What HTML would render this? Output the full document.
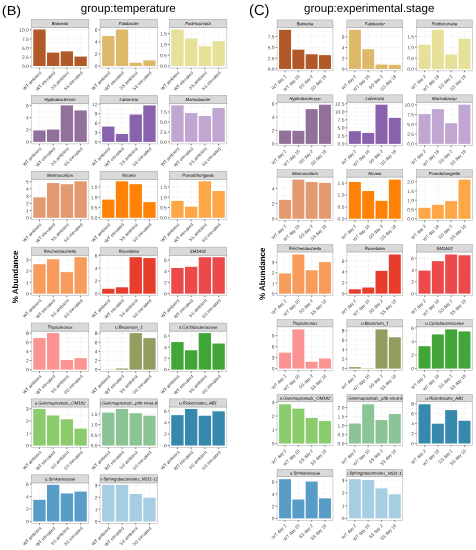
<!DOCTYPE html>
<html lang="en"><head><meta charset="utf-8"><title>Abundance by group</title>
<style>
html,body{margin:0;padding:0;background:#fff}
svg{display:block;text-rendering:geometricPrecision;font-family:"Liberation Sans",Arial,Helvetica,sans-serif}
</style></head><body>
<svg width="476" height="550" viewBox="0 0 476 550">
<rect width="476" height="550" fill="#fff"/>

<text transform="translate(1.8 14.7) scale(1.12 1)" font-size="13" fill="#000">(B)</text>
<text x="128.3" y="11.9" font-size="11.55" text-anchor="middle" fill="#000">group:temperature</text>
<text x="249.1" y="14.8" font-size="14.7" fill="#000">(C)</text>
<text x="369.2" y="11.9" font-size="11.55" text-anchor="middle" fill="#000">group:experimental.stage</text>
<text transform="translate(17.6 276.9) rotate(-90)" font-size="8" font-weight="bold" text-anchor="middle" fill="#000">% Abundance</text>
<text transform="translate(265.3 273.8) rotate(-90)" font-size="8" font-weight="bold" text-anchor="middle" fill="#000">% Abundance</text>

<g>
<rect x="31.2" y="27.5" width="57.65" height="40.5" fill="#fff"/>
<g stroke="#e4e4e4" fill="none"><path d="M31.2 66h57.65" stroke-width="0.3"/><path d="M31.2 61.48h57.65" stroke-width="0.15"/><path d="M31.2 56.97h57.65" stroke-width="0.3"/><path d="M31.2 52.45h57.65" stroke-width="0.15"/><path d="M31.2 47.93h57.65" stroke-width="0.3"/><path d="M31.2 43.41h57.65" stroke-width="0.15"/><path d="M31.2 38.9h57.65" stroke-width="0.3"/><path d="M31.2 34.38h57.65" stroke-width="0.15"/><path d="M31.2 29.86h57.65" stroke-width="0.3"/><path d="M39.44 27.5v40.5" stroke-width="0.3"/><path d="M53.16 27.5v40.5" stroke-width="0.3"/><path d="M66.89 27.5v40.5" stroke-width="0.3"/><path d="M80.61 27.5v40.5" stroke-width="0.3"/></g>
<g fill="#B15928"><rect x="33.26" y="29.5" width="12.35" height="36.5"/><rect x="46.99" y="52.63" width="12.35" height="13.37"/><rect x="60.71" y="51.36" width="12.35" height="14.64"/><rect x="74.44" y="56.6" width="12.35" height="9.4"/></g>
<rect x="31.2" y="27.5" width="57.65" height="40.5" fill="none" stroke="#a8a8a8" stroke-width="0.5"/>
<rect x="31.2" y="19.4" width="57.65" height="8.1" fill="#d9d9d9" stroke="#999" stroke-width="0.45"/>
<svg x="31.4" y="19.4" width="57.25" height="8.1" overflow="hidden"><text transform="translate(28.62 5.65) rotate(0.2)" text-anchor="middle" font-style="italic" font-size="4.25" fill="#000">Balneola</text></svg>
<path d="M29.8 66h1.3M29.8 56.97h1.3M29.8 47.93h1.3M29.8 38.9h1.3M29.8 29.86h1.3M39.44 68.1v1.3M53.16 68.1v1.3M66.89 68.1v1.3M80.61 68.1v1.3" stroke="#444" stroke-width="0.75" fill="none"/>
<g text-anchor="end" font-size="4.9" fill="#3c3c3c"><text transform="translate(28.7 68) rotate(0.2)">0.0</text><text transform="translate(28.7 58.97) rotate(0.2)">2.5</text><text transform="translate(28.7 49.93) rotate(0.2)">5.0</text><text transform="translate(28.7 40.9) rotate(0.2)">7.5</text><text transform="translate(28.7 31.86) rotate(0.2)">10.0</text></g>
<g text-anchor="end" font-size="4.6" fill="#444"><text transform="translate(41.84 73.2) rotate(-45)">WT ambient</text><text transform="translate(55.56 73.2) rotate(-45)">WT elevated</text><text transform="translate(69.29 73.2) rotate(-45)">SS ambient</text><text transform="translate(83.01 73.2) rotate(-45)">SS elevated</text></g>
</g>
<g>
<rect x="100.05" y="27.5" width="57.65" height="40.5" fill="#fff"/>
<g stroke="#e4e4e4" fill="none"><path d="M100.05 66h57.65" stroke-width="0.3"/><path d="M100.05 59.97h57.65" stroke-width="0.15"/><path d="M100.05 53.93h57.65" stroke-width="0.3"/><path d="M100.05 47.9h57.65" stroke-width="0.15"/><path d="M100.05 41.87h57.65" stroke-width="0.3"/><path d="M100.05 35.83h57.65" stroke-width="0.15"/><path d="M100.05 29.8h57.65" stroke-width="0.3"/><path d="M108.29 27.5v40.5" stroke-width="0.3"/><path d="M122.01 27.5v40.5" stroke-width="0.3"/><path d="M135.74 27.5v40.5" stroke-width="0.3"/><path d="M149.46 27.5v40.5" stroke-width="0.3"/></g>
<g fill="#DEB969"><rect x="102.11" y="35.96" width="12.35" height="30.04"/><rect x="115.84" y="29.5" width="12.35" height="36.5"/><rect x="129.56" y="62.74" width="12.35" height="3.26"/><rect x="143.29" y="60.39" width="12.35" height="5.61"/></g>
<rect x="100.05" y="27.5" width="57.65" height="40.5" fill="none" stroke="#a8a8a8" stroke-width="0.5"/>
<rect x="100.05" y="19.4" width="57.65" height="8.1" fill="#d9d9d9" stroke="#999" stroke-width="0.45"/>
<svg x="100.25" y="19.4" width="57.25" height="8.1" overflow="hidden"><text transform="translate(28.62 5.65) rotate(0.2)" text-anchor="middle" font-style="italic" font-size="4.25" fill="#000">Fabibacter</text></svg>
<path d="M98.65 66h1.3M98.65 53.93h1.3M98.65 41.87h1.3M98.65 29.8h1.3M108.29 68.1v1.3M122.01 68.1v1.3M135.74 68.1v1.3M149.46 68.1v1.3" stroke="#444" stroke-width="0.75" fill="none"/>
<g text-anchor="end" font-size="4.9" fill="#3c3c3c"><text transform="translate(97.55 68) rotate(0.2)">0</text><text transform="translate(97.55 55.93) rotate(0.2)">2</text><text transform="translate(97.55 43.87) rotate(0.2)">4</text><text transform="translate(97.55 31.8) rotate(0.2)">6</text></g>
<g text-anchor="end" font-size="4.6" fill="#444"><text transform="translate(110.69 73.2) rotate(-45)">WT ambient</text><text transform="translate(124.41 73.2) rotate(-45)">WT elevated</text><text transform="translate(138.14 73.2) rotate(-45)">SS ambient</text><text transform="translate(151.86 73.2) rotate(-45)">SS elevated</text></g>
</g>
<g>
<rect x="169.2" y="27.5" width="57.65" height="40.5" fill="#fff"/>
<g stroke="#e4e4e4" fill="none"><path d="M169.2 66h57.65" stroke-width="0.3"/><path d="M169.2 60.6h57.65" stroke-width="0.15"/><path d="M169.2 55.2h57.65" stroke-width="0.3"/><path d="M169.2 49.8h57.65" stroke-width="0.15"/><path d="M169.2 44.4h57.65" stroke-width="0.3"/><path d="M169.2 39h57.65" stroke-width="0.15"/><path d="M169.2 33.6h57.65" stroke-width="0.3"/><path d="M169.2 28.2h57.65" stroke-width="0.15"/><path d="M177.44 27.5v40.5" stroke-width="0.3"/><path d="M191.16 27.5v40.5" stroke-width="0.3"/><path d="M204.89 27.5v40.5" stroke-width="0.3"/><path d="M218.61 27.5v40.5" stroke-width="0.3"/></g>
<g fill="#E7E099"><rect x="171.26" y="29.5" width="12.35" height="36.5"/><rect x="184.99" y="38.57" width="12.35" height="27.43"/><rect x="198.71" y="46.13" width="12.35" height="19.87"/><rect x="212.44" y="41.16" width="12.35" height="24.84"/></g>
<rect x="169.2" y="27.5" width="57.65" height="40.5" fill="none" stroke="#a8a8a8" stroke-width="0.5"/>
<rect x="169.2" y="19.4" width="57.65" height="8.1" fill="#d9d9d9" stroke="#999" stroke-width="0.45"/>
<svg x="169.4" y="19.4" width="57.25" height="8.1" overflow="hidden"><text transform="translate(28.62 5.65) rotate(0.2)" text-anchor="middle" font-style="italic" font-size="4.25" fill="#000">Fodinicurvata</text></svg>
<path d="M167.8 66h1.3M167.8 55.2h1.3M167.8 44.4h1.3M167.8 33.6h1.3M177.44 68.1v1.3M191.16 68.1v1.3M204.89 68.1v1.3M218.61 68.1v1.3" stroke="#444" stroke-width="0.75" fill="none"/>
<g text-anchor="end" font-size="4.9" fill="#3c3c3c"><text transform="translate(166.7 68) rotate(0.2)">0.0</text><text transform="translate(166.7 57.2) rotate(0.2)">0.5</text><text transform="translate(166.7 46.4) rotate(0.2)">1.0</text><text transform="translate(166.7 35.6) rotate(0.2)">1.5</text></g>
<g text-anchor="end" font-size="4.6" fill="#444"><text transform="translate(179.84 73.2) rotate(-45)">WT ambient</text><text transform="translate(193.56 73.2) rotate(-45)">WT elevated</text><text transform="translate(207.29 73.2) rotate(-45)">SS ambient</text><text transform="translate(221.01 73.2) rotate(-45)">SS elevated</text></g>
</g>
<g>
<rect x="31.2" y="103.4" width="57.65" height="40.5" fill="#fff"/>
<g stroke="#e4e4e4" fill="none"><path d="M31.2 141.9h57.65" stroke-width="0.3"/><path d="M31.2 135.82h57.65" stroke-width="0.15"/><path d="M31.2 129.73h57.65" stroke-width="0.3"/><path d="M31.2 123.65h57.65" stroke-width="0.15"/><path d="M31.2 117.57h57.65" stroke-width="0.3"/><path d="M31.2 111.48h57.65" stroke-width="0.15"/><path d="M31.2 105.4h57.65" stroke-width="0.3"/><path d="M39.44 103.4v40.5" stroke-width="0.3"/><path d="M53.16 103.4v40.5" stroke-width="0.3"/><path d="M66.89 103.4v40.5" stroke-width="0.3"/><path d="M80.61 103.4v40.5" stroke-width="0.3"/></g>
<g fill="#91709A"><rect x="33.26" y="130.46" width="12.35" height="11.44"/><rect x="46.99" y="129.55" width="12.35" height="12.35"/><rect x="60.71" y="105.4" width="12.35" height="36.5"/><rect x="74.44" y="110.45" width="12.35" height="31.45"/></g>
<rect x="31.2" y="103.4" width="57.65" height="40.5" fill="none" stroke="#a8a8a8" stroke-width="0.5"/>
<rect x="31.2" y="95.3" width="57.65" height="8.1" fill="#d9d9d9" stroke="#999" stroke-width="0.45"/>
<svg x="31.4" y="95.3" width="57.25" height="8.1" overflow="hidden"><text transform="translate(28.62 5.65) rotate(0.2)" text-anchor="middle" font-style="italic" font-size="4.25" fill="#000">Hyphobacterium</text></svg>
<path d="M29.8 141.9h1.3M29.8 129.73h1.3M29.8 117.57h1.3M29.8 105.4h1.3M39.44 144v1.3M53.16 144v1.3M66.89 144v1.3M80.61 144v1.3" stroke="#444" stroke-width="0.75" fill="none"/>
<g text-anchor="end" font-size="4.9" fill="#3c3c3c"><text transform="translate(28.7 143.9) rotate(0.2)">0</text><text transform="translate(28.7 131.73) rotate(0.2)">2</text><text transform="translate(28.7 119.57) rotate(0.2)">4</text><text transform="translate(28.7 107.4) rotate(0.2)">6</text></g>
<g text-anchor="end" font-size="4.6" fill="#444"><text transform="translate(41.84 149.1) rotate(-45)">WT ambient</text><text transform="translate(55.56 149.1) rotate(-45)">WT elevated</text><text transform="translate(69.29 149.1) rotate(-45)">SS ambient</text><text transform="translate(83.01 149.1) rotate(-45)">SS elevated</text></g>
</g>
<g>
<rect x="100.05" y="103.4" width="57.65" height="40.5" fill="#fff"/>
<g stroke="#e4e4e4" fill="none"><path d="M100.05 141.9h57.65" stroke-width="0.3"/><path d="M100.05 137.18h57.65" stroke-width="0.15"/><path d="M100.05 132.46h57.65" stroke-width="0.3"/><path d="M100.05 127.74h57.65" stroke-width="0.15"/><path d="M100.05 123.02h57.65" stroke-width="0.3"/><path d="M100.05 118.3h57.65" stroke-width="0.15"/><path d="M100.05 113.58h57.65" stroke-width="0.3"/><path d="M100.05 108.86h57.65" stroke-width="0.15"/><path d="M100.05 104.14h57.65" stroke-width="0.3"/><path d="M108.29 103.4v40.5" stroke-width="0.3"/><path d="M122.01 103.4v40.5" stroke-width="0.3"/><path d="M135.74 103.4v40.5" stroke-width="0.3"/><path d="M149.46 103.4v40.5" stroke-width="0.3"/></g>
<g fill="#8862AD"><rect x="102.11" y="126.58" width="12.35" height="15.32"/><rect x="115.84" y="133.94" width="12.35" height="7.96"/><rect x="129.56" y="114.53" width="12.35" height="27.38"/><rect x="143.29" y="105.4" width="12.35" height="36.5"/></g>
<rect x="100.05" y="103.4" width="57.65" height="40.5" fill="none" stroke="#a8a8a8" stroke-width="0.5"/>
<rect x="100.05" y="95.3" width="57.65" height="8.1" fill="#d9d9d9" stroke="#999" stroke-width="0.45"/>
<svg x="100.25" y="95.3" width="57.25" height="8.1" overflow="hidden"><text transform="translate(28.62 5.65) rotate(0.2)" text-anchor="middle" font-style="italic" font-size="4.25" fill="#000">Labrenzia</text></svg>
<path d="M98.65 141.9h1.3M98.65 132.46h1.3M98.65 123.02h1.3M98.65 113.58h1.3M98.65 104.14h1.3M108.29 144v1.3M122.01 144v1.3M135.74 144v1.3M149.46 144v1.3" stroke="#444" stroke-width="0.75" fill="none"/>
<g text-anchor="end" font-size="4.9" fill="#3c3c3c"><text transform="translate(97.55 143.9) rotate(0.2)">0</text><text transform="translate(97.55 134.46) rotate(0.2)">3</text><text transform="translate(97.55 125.02) rotate(0.2)">6</text><text transform="translate(97.55 115.58) rotate(0.2)">9</text><text transform="translate(97.55 106.14) rotate(0.2)">12</text></g>
<g text-anchor="end" font-size="4.6" fill="#444"><text transform="translate(110.69 149.1) rotate(-45)">WT ambient</text><text transform="translate(124.41 149.1) rotate(-45)">WT elevated</text><text transform="translate(138.14 149.1) rotate(-45)">SS ambient</text><text transform="translate(151.86 149.1) rotate(-45)">SS elevated</text></g>
</g>
<g>
<rect x="169.2" y="103.4" width="57.65" height="40.5" fill="#fff"/>
<g stroke="#e4e4e4" fill="none"><path d="M169.2 141.9h57.65" stroke-width="0.3"/><path d="M169.2 136.9h57.65" stroke-width="0.15"/><path d="M169.2 131.89h57.65" stroke-width="0.3"/><path d="M169.2 126.89h57.65" stroke-width="0.15"/><path d="M169.2 121.89h57.65" stroke-width="0.3"/><path d="M169.2 116.89h57.65" stroke-width="0.15"/><path d="M169.2 111.88h57.65" stroke-width="0.3"/><path d="M169.2 106.88h57.65" stroke-width="0.15"/><path d="M177.44 103.4v40.5" stroke-width="0.3"/><path d="M191.16 103.4v40.5" stroke-width="0.3"/><path d="M204.89 103.4v40.5" stroke-width="0.3"/><path d="M218.61 103.4v40.5" stroke-width="0.3"/></g>
<g fill="#C0A6D0"><rect x="171.26" y="105.4" width="12.35" height="36.5"/><rect x="184.99" y="113.08" width="12.35" height="28.82"/><rect x="198.71" y="116.01" width="12.35" height="25.89"/><rect x="212.44" y="108.04" width="12.35" height="33.86"/></g>
<rect x="169.2" y="103.4" width="57.65" height="40.5" fill="none" stroke="#a8a8a8" stroke-width="0.5"/>
<rect x="169.2" y="95.3" width="57.65" height="8.1" fill="#d9d9d9" stroke="#999" stroke-width="0.45"/>
<svg x="169.4" y="95.3" width="57.25" height="8.1" overflow="hidden"><text transform="translate(28.62 5.65) rotate(0.2)" text-anchor="middle" font-style="italic" font-size="4.25" fill="#000">Marinobacter</text></svg>
<path d="M167.8 141.9h1.3M167.8 131.89h1.3M167.8 121.89h1.3M167.8 111.88h1.3M177.44 144v1.3M191.16 144v1.3M204.89 144v1.3M218.61 144v1.3" stroke="#444" stroke-width="0.75" fill="none"/>
<g text-anchor="end" font-size="4.9" fill="#3c3c3c"><text transform="translate(166.7 143.9) rotate(0.2)">0.0</text><text transform="translate(166.7 133.89) rotate(0.2)">2.5</text><text transform="translate(166.7 123.89) rotate(0.2)">5.0</text><text transform="translate(166.7 113.88) rotate(0.2)">7.5</text></g>
<g text-anchor="end" font-size="4.6" fill="#444"><text transform="translate(179.84 149.1) rotate(-45)">WT ambient</text><text transform="translate(193.56 149.1) rotate(-45)">WT elevated</text><text transform="translate(207.29 149.1) rotate(-45)">SS ambient</text><text transform="translate(221.01 149.1) rotate(-45)">SS elevated</text></g>
</g>
<g>
<rect x="31.2" y="179.3" width="57.65" height="40.5" fill="#fff"/>
<g stroke="#e4e4e4" fill="none"><path d="M31.2 217.8h57.65" stroke-width="0.3"/><path d="M31.2 214.18h57.65" stroke-width="0.15"/><path d="M31.2 210.56h57.65" stroke-width="0.3"/><path d="M31.2 206.94h57.65" stroke-width="0.15"/><path d="M31.2 203.32h57.65" stroke-width="0.3"/><path d="M31.2 199.69h57.65" stroke-width="0.15"/><path d="M31.2 196.07h57.65" stroke-width="0.3"/><path d="M31.2 192.45h57.65" stroke-width="0.15"/><path d="M31.2 188.83h57.65" stroke-width="0.3"/><path d="M31.2 185.21h57.65" stroke-width="0.15"/><path d="M31.2 181.59h57.65" stroke-width="0.3"/><path d="M39.44 179.3v40.5" stroke-width="0.3"/><path d="M53.16 179.3v40.5" stroke-width="0.3"/><path d="M66.89 179.3v40.5" stroke-width="0.3"/><path d="M80.61 179.3v40.5" stroke-width="0.3"/></g>
<g fill="#E39A71"><rect x="33.26" y="197.38" width="12.35" height="20.42"/><rect x="46.99" y="183.04" width="12.35" height="34.76"/><rect x="60.71" y="184.2" width="12.35" height="33.6"/><rect x="74.44" y="181.3" width="12.35" height="36.5"/></g>
<rect x="31.2" y="179.3" width="57.65" height="40.5" fill="none" stroke="#a8a8a8" stroke-width="0.5"/>
<rect x="31.2" y="171.2" width="57.65" height="8.1" fill="#d9d9d9" stroke="#999" stroke-width="0.45"/>
<svg x="31.4" y="171.2" width="57.25" height="8.1" overflow="hidden"><text transform="translate(28.62 5.65) rotate(0.2)" text-anchor="middle" font-style="italic" font-size="4.25" fill="#000">Marinoscillum</text></svg>
<path d="M29.8 217.8h1.3M29.8 210.56h1.3M29.8 203.32h1.3M29.8 196.07h1.3M29.8 188.83h1.3M29.8 181.59h1.3M39.44 219.9v1.3M53.16 219.9v1.3M66.89 219.9v1.3M80.61 219.9v1.3" stroke="#444" stroke-width="0.75" fill="none"/>
<g text-anchor="end" font-size="4.9" fill="#3c3c3c"><text transform="translate(28.7 219.8) rotate(0.2)">0</text><text transform="translate(28.7 212.56) rotate(0.2)">1</text><text transform="translate(28.7 205.32) rotate(0.2)">2</text><text transform="translate(28.7 198.07) rotate(0.2)">3</text><text transform="translate(28.7 190.83) rotate(0.2)">4</text><text transform="translate(28.7 183.59) rotate(0.2)">5</text></g>
<g text-anchor="end" font-size="4.6" fill="#444"><text transform="translate(41.84 225) rotate(-45)">WT ambient</text><text transform="translate(55.56 225) rotate(-45)">WT elevated</text><text transform="translate(69.29 225) rotate(-45)">SS ambient</text><text transform="translate(83.01 225) rotate(-45)">SS elevated</text></g>
</g>
<g>
<rect x="100.05" y="179.3" width="57.65" height="40.5" fill="#fff"/>
<g stroke="#e4e4e4" fill="none"><path d="M100.05 217.8h57.65" stroke-width="0.3"/><path d="M100.05 212.64h57.65" stroke-width="0.15"/><path d="M100.05 207.49h57.65" stroke-width="0.3"/><path d="M100.05 202.33h57.65" stroke-width="0.15"/><path d="M100.05 197.18h57.65" stroke-width="0.3"/><path d="M100.05 192.02h57.65" stroke-width="0.15"/><path d="M100.05 186.87h57.65" stroke-width="0.3"/><path d="M100.05 181.71h57.65" stroke-width="0.15"/><path d="M108.29 179.3v40.5" stroke-width="0.3"/><path d="M122.01 179.3v40.5" stroke-width="0.3"/><path d="M135.74 179.3v40.5" stroke-width="0.3"/><path d="M149.46 179.3v40.5" stroke-width="0.3"/></g>
<g fill="#FF8206"><rect x="102.11" y="199.65" width="12.35" height="18.15"/><rect x="115.84" y="181.3" width="12.35" height="36.5"/><rect x="129.56" y="184.19" width="12.35" height="33.61"/><rect x="143.29" y="202.13" width="12.35" height="15.67"/></g>
<rect x="100.05" y="179.3" width="57.65" height="40.5" fill="none" stroke="#a8a8a8" stroke-width="0.5"/>
<rect x="100.05" y="171.2" width="57.65" height="8.1" fill="#d9d9d9" stroke="#999" stroke-width="0.45"/>
<svg x="100.25" y="171.2" width="57.25" height="8.1" overflow="hidden"><text transform="translate(28.62 5.65) rotate(0.2)" text-anchor="middle" font-style="italic" font-size="4.25" fill="#000">Nisaea</text></svg>
<path d="M98.65 217.8h1.3M98.65 207.49h1.3M98.65 197.18h1.3M98.65 186.87h1.3M108.29 219.9v1.3M122.01 219.9v1.3M135.74 219.9v1.3M149.46 219.9v1.3" stroke="#444" stroke-width="0.75" fill="none"/>
<g text-anchor="end" font-size="4.9" fill="#3c3c3c"><text transform="translate(97.55 219.8) rotate(0.2)">0.0</text><text transform="translate(97.55 209.49) rotate(0.2)">0.5</text><text transform="translate(97.55 199.18) rotate(0.2)">1.0</text><text transform="translate(97.55 188.87) rotate(0.2)">1.5</text></g>
<g text-anchor="end" font-size="4.6" fill="#444"><text transform="translate(110.69 225) rotate(-45)">WT ambient</text><text transform="translate(124.41 225) rotate(-45)">WT elevated</text><text transform="translate(138.14 225) rotate(-45)">SS ambient</text><text transform="translate(151.86 225) rotate(-45)">SS elevated</text></g>
</g>
<g>
<rect x="169.2" y="179.3" width="57.65" height="40.5" fill="#fff"/>
<g stroke="#e4e4e4" fill="none"><path d="M169.2 217.8h57.65" stroke-width="0.3"/><path d="M169.2 212.64h57.65" stroke-width="0.15"/><path d="M169.2 207.49h57.65" stroke-width="0.3"/><path d="M169.2 202.33h57.65" stroke-width="0.15"/><path d="M169.2 197.18h57.65" stroke-width="0.3"/><path d="M169.2 192.02h57.65" stroke-width="0.15"/><path d="M169.2 186.87h57.65" stroke-width="0.3"/><path d="M169.2 181.71h57.65" stroke-width="0.15"/><path d="M177.44 179.3v40.5" stroke-width="0.3"/><path d="M191.16 179.3v40.5" stroke-width="0.3"/><path d="M204.89 179.3v40.5" stroke-width="0.3"/><path d="M218.61 179.3v40.5" stroke-width="0.3"/></g>
<g fill="#FEA746"><rect x="171.26" y="200.89" width="12.35" height="16.91"/><rect x="184.99" y="206.66" width="12.35" height="11.14"/><rect x="198.71" y="181.3" width="12.35" height="36.5"/><rect x="212.44" y="190.99" width="12.35" height="26.81"/></g>
<rect x="169.2" y="179.3" width="57.65" height="40.5" fill="none" stroke="#a8a8a8" stroke-width="0.5"/>
<rect x="169.2" y="171.2" width="57.65" height="8.1" fill="#d9d9d9" stroke="#999" stroke-width="0.45"/>
<svg x="169.4" y="171.2" width="57.25" height="8.1" overflow="hidden"><text transform="translate(28.62 5.65) rotate(0.2)" text-anchor="middle" font-style="italic" font-size="4.25" fill="#000">Pseudohongiella</text></svg>
<path d="M167.8 217.8h1.3M167.8 207.49h1.3M167.8 197.18h1.3M167.8 186.87h1.3M177.44 219.9v1.3M191.16 219.9v1.3M204.89 219.9v1.3M218.61 219.9v1.3" stroke="#444" stroke-width="0.75" fill="none"/>
<g text-anchor="end" font-size="4.9" fill="#3c3c3c"><text transform="translate(166.7 219.8) rotate(0.2)">0.0</text><text transform="translate(166.7 209.49) rotate(0.2)">0.5</text><text transform="translate(166.7 199.18) rotate(0.2)">1.0</text><text transform="translate(166.7 188.87) rotate(0.2)">1.5</text></g>
<g text-anchor="end" font-size="4.6" fill="#444"><text transform="translate(179.84 225) rotate(-45)">WT ambient</text><text transform="translate(193.56 225) rotate(-45)">WT elevated</text><text transform="translate(207.29 225) rotate(-45)">SS ambient</text><text transform="translate(221.01 225) rotate(-45)">SS elevated</text></g>
</g>
<g>
<rect x="31.2" y="255.2" width="57.65" height="40.5" fill="#fff"/>
<g stroke="#e4e4e4" fill="none"><path d="M31.2 293.7h57.65" stroke-width="0.3"/><path d="M31.2 288.05h57.65" stroke-width="0.15"/><path d="M31.2 282.4h57.65" stroke-width="0.3"/><path d="M31.2 276.75h57.65" stroke-width="0.15"/><path d="M31.2 271.1h57.65" stroke-width="0.3"/><path d="M31.2 265.45h57.65" stroke-width="0.15"/><path d="M31.2 259.8h57.65" stroke-width="0.3"/><path d="M39.44 255.2v40.5" stroke-width="0.3"/><path d="M53.16 255.2v40.5" stroke-width="0.3"/><path d="M66.89 255.2v40.5" stroke-width="0.3"/><path d="M80.61 255.2v40.5" stroke-width="0.3"/></g>
<g fill="#F79C5D"><rect x="33.26" y="264.21" width="12.35" height="29.49"/><rect x="46.99" y="259.23" width="12.35" height="34.47"/><rect x="60.71" y="272.12" width="12.35" height="21.58"/><rect x="74.44" y="257.2" width="12.35" height="36.5"/></g>
<rect x="31.2" y="255.2" width="57.65" height="40.5" fill="none" stroke="#a8a8a8" stroke-width="0.5"/>
<rect x="31.2" y="247.1" width="57.65" height="8.1" fill="#d9d9d9" stroke="#999" stroke-width="0.45"/>
<svg x="31.4" y="247.1" width="57.25" height="8.1" overflow="hidden"><text transform="translate(28.62 5.65) rotate(0.2)" text-anchor="middle" font-style="italic" font-size="4.25" fill="#000">Reichenbachiella</text></svg>
<path d="M29.8 293.7h1.3M29.8 282.4h1.3M29.8 271.1h1.3M29.8 259.8h1.3M39.44 295.8v1.3M53.16 295.8v1.3M66.89 295.8v1.3M80.61 295.8v1.3" stroke="#444" stroke-width="0.75" fill="none"/>
<g text-anchor="end" font-size="4.9" fill="#3c3c3c"><text transform="translate(28.7 295.7) rotate(0.2)">0</text><text transform="translate(28.7 284.4) rotate(0.2)">1</text><text transform="translate(28.7 273.1) rotate(0.2)">2</text><text transform="translate(28.7 261.8) rotate(0.2)">3</text></g>
<g text-anchor="end" font-size="4.6" fill="#444"><text transform="translate(41.84 300.9) rotate(-45)">WT ambient</text><text transform="translate(55.56 300.9) rotate(-45)">WT elevated</text><text transform="translate(69.29 300.9) rotate(-45)">SS ambient</text><text transform="translate(83.01 300.9) rotate(-45)">SS elevated</text></g>
</g>
<g>
<rect x="100.05" y="255.2" width="57.65" height="40.5" fill="#fff"/>
<g stroke="#e4e4e4" fill="none"><path d="M100.05 293.7h57.65" stroke-width="0.3"/><path d="M100.05 287.32h57.65" stroke-width="0.15"/><path d="M100.05 280.94h57.65" stroke-width="0.3"/><path d="M100.05 274.56h57.65" stroke-width="0.15"/><path d="M100.05 268.18h57.65" stroke-width="0.3"/><path d="M100.05 261.79h57.65" stroke-width="0.15"/><path d="M100.05 255.41h57.65" stroke-width="0.3"/><path d="M108.29 255.2v40.5" stroke-width="0.3"/><path d="M122.01 255.2v40.5" stroke-width="0.3"/><path d="M135.74 255.2v40.5" stroke-width="0.3"/><path d="M149.46 255.2v40.5" stroke-width="0.3"/></g>
<g fill="#E83D2D"><rect x="102.11" y="288.79" width="12.35" height="4.91"/><rect x="115.84" y="287.32" width="12.35" height="6.38"/><rect x="129.56" y="257.2" width="12.35" height="36.5"/><rect x="143.29" y="258.09" width="12.35" height="35.61"/></g>
<rect x="100.05" y="255.2" width="57.65" height="40.5" fill="none" stroke="#a8a8a8" stroke-width="0.5"/>
<rect x="100.05" y="247.1" width="57.65" height="8.1" fill="#d9d9d9" stroke="#999" stroke-width="0.45"/>
<svg x="100.25" y="247.1" width="57.25" height="8.1" overflow="hidden"><text transform="translate(28.62 5.65) rotate(0.2)" text-anchor="middle" font-style="italic" font-size="4.25" fill="#000">Roseitalea</text></svg>
<path d="M98.65 293.7h1.3M98.65 280.94h1.3M98.65 268.18h1.3M98.65 255.41h1.3M108.29 295.8v1.3M122.01 295.8v1.3M135.74 295.8v1.3M149.46 295.8v1.3" stroke="#444" stroke-width="0.75" fill="none"/>
<g text-anchor="end" font-size="4.9" fill="#3c3c3c"><text transform="translate(97.55 295.7) rotate(0.2)">0</text><text transform="translate(97.55 282.94) rotate(0.2)">2</text><text transform="translate(97.55 270.18) rotate(0.2)">4</text><text transform="translate(97.55 257.41) rotate(0.2)">6</text></g>
<g text-anchor="end" font-size="4.6" fill="#444"><text transform="translate(110.69 300.9) rotate(-45)">WT ambient</text><text transform="translate(124.41 300.9) rotate(-45)">WT elevated</text><text transform="translate(138.14 300.9) rotate(-45)">SS ambient</text><text transform="translate(151.86 300.9) rotate(-45)">SS elevated</text></g>
</g>
<g>
<rect x="169.2" y="255.2" width="57.65" height="40.5" fill="#fff"/>
<g stroke="#e4e4e4" fill="none"><path d="M169.2 293.7h57.65" stroke-width="0.3"/><path d="M169.2 288.08h57.65" stroke-width="0.15"/><path d="M169.2 282.47h57.65" stroke-width="0.3"/><path d="M169.2 276.85h57.65" stroke-width="0.15"/><path d="M169.2 271.24h57.65" stroke-width="0.3"/><path d="M169.2 265.62h57.65" stroke-width="0.15"/><path d="M169.2 260.01h57.65" stroke-width="0.3"/><path d="M177.44 255.2v40.5" stroke-width="0.3"/><path d="M191.16 255.2v40.5" stroke-width="0.3"/><path d="M204.89 255.2v40.5" stroke-width="0.3"/><path d="M218.61 255.2v40.5" stroke-width="0.3"/></g>
<g fill="#EC494A"><rect x="171.26" y="267.98" width="12.35" height="25.72"/><rect x="184.99" y="266.8" width="12.35" height="26.9"/><rect x="198.71" y="257.2" width="12.35" height="36.5"/><rect x="212.44" y="257.2" width="12.35" height="36.5"/></g>
<rect x="169.2" y="255.2" width="57.65" height="40.5" fill="none" stroke="#a8a8a8" stroke-width="0.5"/>
<rect x="169.2" y="247.1" width="57.65" height="8.1" fill="#d9d9d9" stroke="#999" stroke-width="0.45"/>
<svg x="169.4" y="247.1" width="57.25" height="8.1" overflow="hidden"><text transform="translate(28.62 5.65) rotate(0.2)" text-anchor="middle" font-style="italic" font-size="4.25" fill="#000">SM1A02</text></svg>
<path d="M167.8 293.7h1.3M167.8 282.47h1.3M167.8 271.24h1.3M167.8 260.01h1.3M177.44 295.8v1.3M191.16 295.8v1.3M204.89 295.8v1.3M218.61 295.8v1.3" stroke="#444" stroke-width="0.75" fill="none"/>
<g text-anchor="end" font-size="4.9" fill="#3c3c3c"><text transform="translate(166.7 295.7) rotate(0.2)">0</text><text transform="translate(166.7 284.47) rotate(0.2)">2</text><text transform="translate(166.7 273.24) rotate(0.2)">4</text><text transform="translate(166.7 262.01) rotate(0.2)">6</text></g>
<g text-anchor="end" font-size="4.6" fill="#444"><text transform="translate(179.84 300.9) rotate(-45)">WT ambient</text><text transform="translate(193.56 300.9) rotate(-45)">WT elevated</text><text transform="translate(207.29 300.9) rotate(-45)">SS ambient</text><text transform="translate(221.01 300.9) rotate(-45)">SS elevated</text></g>
</g>
<g>
<rect x="31.2" y="331.1" width="57.65" height="40.5" fill="#fff"/>
<g stroke="#e4e4e4" fill="none"><path d="M31.2 369.6h57.65" stroke-width="0.3"/><path d="M31.2 365.04h57.65" stroke-width="0.15"/><path d="M31.2 360.48h57.65" stroke-width="0.3"/><path d="M31.2 355.91h57.65" stroke-width="0.15"/><path d="M31.2 351.35h57.65" stroke-width="0.3"/><path d="M31.2 346.79h57.65" stroke-width="0.15"/><path d="M31.2 342.23h57.65" stroke-width="0.3"/><path d="M31.2 337.66h57.65" stroke-width="0.15"/><path d="M31.2 333.1h57.65" stroke-width="0.3"/><path d="M39.44 331.1v40.5" stroke-width="0.3"/><path d="M53.16 331.1v40.5" stroke-width="0.3"/><path d="M66.89 331.1v40.5" stroke-width="0.3"/><path d="M80.61 331.1v40.5" stroke-width="0.3"/></g>
<g fill="#FA9392"><rect x="33.26" y="338.12" width="12.35" height="31.48"/><rect x="46.99" y="333.1" width="12.35" height="36.5"/><rect x="60.71" y="360.02" width="12.35" height="9.58"/><rect x="74.44" y="358.19" width="12.35" height="11.41"/></g>
<rect x="31.2" y="331.1" width="57.65" height="40.5" fill="none" stroke="#a8a8a8" stroke-width="0.5"/>
<rect x="31.2" y="323" width="57.65" height="8.1" fill="#d9d9d9" stroke="#999" stroke-width="0.45"/>
<svg x="31.4" y="323" width="57.25" height="8.1" overflow="hidden"><text transform="translate(28.62 5.65) rotate(0.2)" text-anchor="middle" font-style="italic" font-size="4.25" fill="#000">Tropicimonas</text></svg>
<path d="M29.8 369.6h1.3M29.8 360.48h1.3M29.8 351.35h1.3M29.8 342.23h1.3M29.8 333.1h1.3M39.44 371.7v1.3M53.16 371.7v1.3M66.89 371.7v1.3M80.61 371.7v1.3" stroke="#444" stroke-width="0.75" fill="none"/>
<g text-anchor="end" font-size="4.9" fill="#3c3c3c"><text transform="translate(28.7 371.6) rotate(0.2)">0</text><text transform="translate(28.7 362.48) rotate(0.2)">2</text><text transform="translate(28.7 353.35) rotate(0.2)">4</text><text transform="translate(28.7 344.23) rotate(0.2)">6</text><text transform="translate(28.7 335.1) rotate(0.2)">8</text></g>
<g text-anchor="end" font-size="4.6" fill="#444"><text transform="translate(41.84 376.8) rotate(-45)">WT ambient</text><text transform="translate(55.56 376.8) rotate(-45)">WT elevated</text><text transform="translate(69.29 376.8) rotate(-45)">SS ambient</text><text transform="translate(83.01 376.8) rotate(-45)">SS elevated</text></g>
</g>
<g>
<rect x="100.05" y="331.1" width="57.65" height="40.5" fill="#fff"/>
<g stroke="#e4e4e4" fill="none"><path d="M100.05 369.6h57.65" stroke-width="0.3"/><path d="M100.05 365.04h57.65" stroke-width="0.15"/><path d="M100.05 360.48h57.65" stroke-width="0.3"/><path d="M100.05 355.91h57.65" stroke-width="0.15"/><path d="M100.05 351.35h57.65" stroke-width="0.3"/><path d="M100.05 346.79h57.65" stroke-width="0.15"/><path d="M100.05 342.23h57.65" stroke-width="0.3"/><path d="M100.05 337.66h57.65" stroke-width="0.15"/><path d="M100.05 333.1h57.65" stroke-width="0.3"/><path d="M108.29 331.1v40.5" stroke-width="0.3"/><path d="M122.01 331.1v40.5" stroke-width="0.3"/><path d="M135.74 331.1v40.5" stroke-width="0.3"/><path d="M149.46 331.1v40.5" stroke-width="0.3"/></g>
<g fill="#929D60"><rect x="102.11" y="369.46" width="12.35" height="0.14"/><rect x="115.84" y="368.46" width="12.35" height="1.14"/><rect x="129.56" y="333.1" width="12.35" height="36.5"/><rect x="143.29" y="338.12" width="12.35" height="31.48"/></g>
<rect x="100.05" y="331.1" width="57.65" height="40.5" fill="none" stroke="#a8a8a8" stroke-width="0.5"/>
<rect x="100.05" y="323" width="57.65" height="8.1" fill="#d9d9d9" stroke="#999" stroke-width="0.45"/>
<svg x="100.25" y="323" width="57.25" height="8.1" overflow="hidden"><text transform="translate(28.62 5.65) rotate(0.2)" text-anchor="middle" font-style="italic" font-size="4.25" fill="#000">u.Bacterium_1</text></svg>
<path d="M98.65 369.6h1.3M98.65 360.48h1.3M98.65 351.35h1.3M98.65 342.23h1.3M98.65 333.1h1.3M108.29 371.7v1.3M122.01 371.7v1.3M135.74 371.7v1.3M149.46 371.7v1.3" stroke="#444" stroke-width="0.75" fill="none"/>
<g text-anchor="end" font-size="4.9" fill="#3c3c3c"><text transform="translate(97.55 371.6) rotate(0.2)">0</text><text transform="translate(97.55 362.48) rotate(0.2)">2</text><text transform="translate(97.55 353.35) rotate(0.2)">4</text><text transform="translate(97.55 344.23) rotate(0.2)">6</text><text transform="translate(97.55 335.1) rotate(0.2)">8</text></g>
<g text-anchor="end" font-size="4.6" fill="#444"><text transform="translate(110.69 376.8) rotate(-45)">WT ambient</text><text transform="translate(124.41 376.8) rotate(-45)">WT elevated</text><text transform="translate(138.14 376.8) rotate(-45)">SS ambient</text><text transform="translate(151.86 376.8) rotate(-45)">SS elevated</text></g>
</g>
<g>
<rect x="169.2" y="331.1" width="57.65" height="40.5" fill="#fff"/>
<g stroke="#e4e4e4" fill="none"><path d="M169.2 369.6h57.65" stroke-width="0.3"/><path d="M169.2 363.98h57.65" stroke-width="0.15"/><path d="M169.2 358.37h57.65" stroke-width="0.3"/><path d="M169.2 352.75h57.65" stroke-width="0.15"/><path d="M169.2 347.14h57.65" stroke-width="0.3"/><path d="M169.2 341.52h57.65" stroke-width="0.15"/><path d="M169.2 335.91h57.65" stroke-width="0.3"/><path d="M177.44 331.1v40.5" stroke-width="0.3"/><path d="M191.16 331.1v40.5" stroke-width="0.3"/><path d="M204.89 331.1v40.5" stroke-width="0.3"/><path d="M218.61 331.1v40.5" stroke-width="0.3"/></g>
<g fill="#40A736"><rect x="171.26" y="342.08" width="12.35" height="27.52"/><rect x="184.99" y="350.28" width="12.35" height="19.32"/><rect x="198.71" y="333.1" width="12.35" height="36.5"/><rect x="212.44" y="343.54" width="12.35" height="26.06"/></g>
<rect x="169.2" y="331.1" width="57.65" height="40.5" fill="none" stroke="#a8a8a8" stroke-width="0.5"/>
<rect x="169.2" y="323" width="57.65" height="8.1" fill="#d9d9d9" stroke="#999" stroke-width="0.45"/>
<svg x="169.4" y="323" width="57.25" height="8.1" overflow="hidden"><text transform="translate(28.62 5.65) rotate(0.2)" text-anchor="middle" font-style="italic" font-size="4.25" fill="#000">u.Cyclobacteriaceae</text></svg>
<path d="M167.8 369.6h1.3M167.8 358.37h1.3M167.8 347.14h1.3M167.8 335.91h1.3M177.44 371.7v1.3M191.16 371.7v1.3M204.89 371.7v1.3M218.61 371.7v1.3" stroke="#444" stroke-width="0.75" fill="none"/>
<g text-anchor="end" font-size="4.9" fill="#3c3c3c"><text transform="translate(166.7 371.6) rotate(0.2)">0</text><text transform="translate(166.7 360.37) rotate(0.2)">2</text><text transform="translate(166.7 349.14) rotate(0.2)">4</text><text transform="translate(166.7 337.91) rotate(0.2)">6</text></g>
<g text-anchor="end" font-size="4.6" fill="#444"><text transform="translate(179.84 376.8) rotate(-45)">WT ambient</text><text transform="translate(193.56 376.8) rotate(-45)">WT elevated</text><text transform="translate(207.29 376.8) rotate(-45)">SS ambient</text><text transform="translate(221.01 376.8) rotate(-45)">SS elevated</text></g>
</g>
<g>
<rect x="31.2" y="407" width="57.65" height="40.5" fill="#fff"/>
<g stroke="#e4e4e4" fill="none"><path d="M31.2 445.5h57.65" stroke-width="0.3"/><path d="M31.2 439.38h57.65" stroke-width="0.15"/><path d="M31.2 433.25h57.65" stroke-width="0.3"/><path d="M31.2 427.13h57.65" stroke-width="0.15"/><path d="M31.2 421h57.65" stroke-width="0.3"/><path d="M31.2 414.88h57.65" stroke-width="0.15"/><path d="M31.2 408.76h57.65" stroke-width="0.3"/><path d="M39.44 407v40.5" stroke-width="0.3"/><path d="M53.16 407v40.5" stroke-width="0.3"/><path d="M66.89 407v40.5" stroke-width="0.3"/><path d="M80.61 407v40.5" stroke-width="0.3"/></g>
<g fill="#8ACB6C"><rect x="33.26" y="409" width="12.35" height="36.5"/><rect x="46.99" y="415.49" width="12.35" height="30.01"/><rect x="60.71" y="419.29" width="12.35" height="26.21"/><rect x="74.44" y="428.6" width="12.35" height="16.9"/></g>
<rect x="31.2" y="407" width="57.65" height="40.5" fill="none" stroke="#a8a8a8" stroke-width="0.5"/>
<rect x="31.2" y="398.9" width="57.65" height="8.1" fill="#d9d9d9" stroke="#999" stroke-width="0.45"/>
<svg x="31.4" y="398.9" width="57.25" height="8.1" overflow="hidden"><text transform="translate(28.62 5.65) rotate(0.2)" text-anchor="middle" font-style="italic" font-size="4.25" fill="#000">u.Gammaproteob._OM182</text></svg>
<path d="M29.8 445.5h1.3M29.8 433.25h1.3M29.8 421h1.3M29.8 408.76h1.3M39.44 447.6v1.3M53.16 447.6v1.3M66.89 447.6v1.3M80.61 447.6v1.3" stroke="#444" stroke-width="0.75" fill="none"/>
<g text-anchor="end" font-size="4.9" fill="#3c3c3c"><text transform="translate(28.7 447.5) rotate(0.2)">0</text><text transform="translate(28.7 435.25) rotate(0.2)">1</text><text transform="translate(28.7 423) rotate(0.2)">2</text><text transform="translate(28.7 410.76) rotate(0.2)">3</text></g>
<g text-anchor="end" font-size="4.6" fill="#444"><text transform="translate(41.84 452.7) rotate(-45)">WT ambient</text><text transform="translate(55.56 452.7) rotate(-45)">WT elevated</text><text transform="translate(69.29 452.7) rotate(-45)">SS ambient</text><text transform="translate(83.01 452.7) rotate(-45)">SS elevated</text></g>
</g>
<g>
<rect x="100.05" y="407" width="57.65" height="40.5" fill="#fff"/>
<g stroke="#e4e4e4" fill="none"><path d="M100.05 445.5h57.65" stroke-width="0.3"/><path d="M100.05 440.26h57.65" stroke-width="0.15"/><path d="M100.05 435.01h57.65" stroke-width="0.3"/><path d="M100.05 429.77h57.65" stroke-width="0.15"/><path d="M100.05 424.52h57.65" stroke-width="0.3"/><path d="M100.05 419.28h57.65" stroke-width="0.15"/><path d="M100.05 414.03h57.65" stroke-width="0.3"/><path d="M100.05 408.79h57.65" stroke-width="0.15"/><path d="M108.29 407v40.5" stroke-width="0.3"/><path d="M122.01 407v40.5" stroke-width="0.3"/><path d="M135.74 407v40.5" stroke-width="0.3"/><path d="M149.46 407v40.5" stroke-width="0.3"/></g>
<g fill="#8BC495"><rect x="102.11" y="412.57" width="12.35" height="32.93"/><rect x="115.84" y="409" width="12.35" height="36.5"/><rect x="129.56" y="413.2" width="12.35" height="32.3"/><rect x="143.29" y="415.71" width="12.35" height="29.79"/></g>
<rect x="100.05" y="407" width="57.65" height="40.5" fill="none" stroke="#a8a8a8" stroke-width="0.5"/>
<rect x="100.05" y="398.9" width="57.65" height="8.1" fill="#d9d9d9" stroke="#999" stroke-width="0.45"/>
<svg x="100.25" y="398.9" width="57.25" height="8.1" overflow="hidden"><text transform="translate(28.62 5.65) rotate(0.2)" text-anchor="middle" font-style="italic" font-size="4.25" fill="#000">u.Gammaproteob._pItb-vmat-80</text></svg>
<path d="M98.65 445.5h1.3M98.65 435.01h1.3M98.65 424.52h1.3M98.65 414.03h1.3M108.29 447.6v1.3M122.01 447.6v1.3M135.74 447.6v1.3M149.46 447.6v1.3" stroke="#444" stroke-width="0.75" fill="none"/>
<g text-anchor="end" font-size="4.9" fill="#3c3c3c"><text transform="translate(97.55 447.5) rotate(0.2)">0.0</text><text transform="translate(97.55 437.01) rotate(0.2)">0.5</text><text transform="translate(97.55 426.52) rotate(0.2)">1.0</text><text transform="translate(97.55 416.03) rotate(0.2)">1.5</text></g>
<g text-anchor="end" font-size="4.6" fill="#444"><text transform="translate(110.69 452.7) rotate(-45)">WT ambient</text><text transform="translate(124.41 452.7) rotate(-45)">WT elevated</text><text transform="translate(138.14 452.7) rotate(-45)">SS ambient</text><text transform="translate(151.86 452.7) rotate(-45)">SS elevated</text></g>
</g>
<g>
<rect x="169.2" y="407" width="57.65" height="40.5" fill="#fff"/>
<g stroke="#e4e4e4" fill="none"><path d="M169.2 445.5h57.65" stroke-width="0.3"/><path d="M169.2 439.75h57.65" stroke-width="0.15"/><path d="M169.2 434h57.65" stroke-width="0.3"/><path d="M169.2 428.26h57.65" stroke-width="0.15"/><path d="M169.2 422.51h57.65" stroke-width="0.3"/><path d="M169.2 416.76h57.65" stroke-width="0.15"/><path d="M169.2 411.01h57.65" stroke-width="0.3"/><path d="M177.44 407v40.5" stroke-width="0.3"/><path d="M191.16 407v40.5" stroke-width="0.3"/><path d="M204.89 407v40.5" stroke-width="0.3"/><path d="M218.61 407v40.5" stroke-width="0.3"/></g>
<g fill="#3688AD"><rect x="171.26" y="415.15" width="12.35" height="30.35"/><rect x="184.99" y="409" width="12.35" height="36.5"/><rect x="198.71" y="415.73" width="12.35" height="29.77"/><rect x="212.44" y="411.36" width="12.35" height="34.14"/></g>
<rect x="169.2" y="407" width="57.65" height="40.5" fill="none" stroke="#a8a8a8" stroke-width="0.5"/>
<rect x="169.2" y="398.9" width="57.65" height="8.1" fill="#d9d9d9" stroke="#999" stroke-width="0.45"/>
<svg x="169.4" y="398.9" width="57.25" height="8.1" overflow="hidden"><text transform="translate(28.62 5.65) rotate(0.2)" text-anchor="middle" font-style="italic" font-size="4.25" fill="#000">u.Rickettsiales_AB1</text></svg>
<path d="M167.8 445.5h1.3M167.8 434h1.3M167.8 422.51h1.3M167.8 411.01h1.3M177.44 447.6v1.3M191.16 447.6v1.3M204.89 447.6v1.3M218.61 447.6v1.3" stroke="#444" stroke-width="0.75" fill="none"/>
<g text-anchor="end" font-size="4.9" fill="#3c3c3c"><text transform="translate(166.7 447.5) rotate(0.2)">0</text><text transform="translate(166.7 436) rotate(0.2)">2</text><text transform="translate(166.7 424.51) rotate(0.2)">4</text><text transform="translate(166.7 413.01) rotate(0.2)">6</text></g>
<g text-anchor="end" font-size="4.6" fill="#444"><text transform="translate(179.84 452.7) rotate(-45)">WT ambient</text><text transform="translate(193.56 452.7) rotate(-45)">WT elevated</text><text transform="translate(207.29 452.7) rotate(-45)">SS ambient</text><text transform="translate(221.01 452.7) rotate(-45)">SS elevated</text></g>
</g>
<g>
<rect x="31.2" y="482.9" width="57.65" height="40.5" fill="#fff"/>
<g stroke="#e4e4e4" fill="none"><path d="M31.2 521.4h57.65" stroke-width="0.3"/><path d="M31.2 515.18h57.65" stroke-width="0.15"/><path d="M31.2 508.96h57.65" stroke-width="0.3"/><path d="M31.2 502.75h57.65" stroke-width="0.15"/><path d="M31.2 496.53h57.65" stroke-width="0.3"/><path d="M31.2 490.31h57.65" stroke-width="0.15"/><path d="M31.2 484.09h57.65" stroke-width="0.3"/><path d="M39.44 482.9v40.5" stroke-width="0.3"/><path d="M53.16 482.9v40.5" stroke-width="0.3"/><path d="M66.89 482.9v40.5" stroke-width="0.3"/><path d="M80.61 482.9v40.5" stroke-width="0.3"/></g>
<g fill="#589CC8"><rect x="33.26" y="499.82" width="12.35" height="21.58"/><rect x="46.99" y="484.9" width="12.35" height="36.5"/><rect x="60.71" y="493.42" width="12.35" height="27.98"/><rect x="74.44" y="491.62" width="12.35" height="29.78"/></g>
<rect x="31.2" y="482.9" width="57.65" height="40.5" fill="none" stroke="#a8a8a8" stroke-width="0.5"/>
<rect x="31.2" y="474.8" width="57.65" height="8.1" fill="#d9d9d9" stroke="#999" stroke-width="0.45"/>
<svg x="31.4" y="474.8" width="57.25" height="8.1" overflow="hidden"><text transform="translate(28.62 5.65) rotate(0.2)" text-anchor="middle" font-style="italic" font-size="4.25" fill="#000">u.Simkaniaceae</text></svg>
<path d="M29.8 521.4h1.3M29.8 508.96h1.3M29.8 496.53h1.3M29.8 484.09h1.3M39.44 523.5v1.3M53.16 523.5v1.3M66.89 523.5v1.3M80.61 523.5v1.3" stroke="#444" stroke-width="0.75" fill="none"/>
<g text-anchor="end" font-size="4.9" fill="#3c3c3c"><text transform="translate(28.7 523.4) rotate(0.2)">0</text><text transform="translate(28.7 510.96) rotate(0.2)">2</text><text transform="translate(28.7 498.53) rotate(0.2)">4</text><text transform="translate(28.7 486.09) rotate(0.2)">6</text></g>
<g text-anchor="end" font-size="4.6" fill="#444"><text transform="translate(41.84 528.6) rotate(-45)">WT ambient</text><text transform="translate(55.56 528.6) rotate(-45)">WT elevated</text><text transform="translate(69.29 528.6) rotate(-45)">SS ambient</text><text transform="translate(83.01 528.6) rotate(-45)">SS elevated</text></g>
</g>
<g>
<rect x="100.05" y="482.9" width="57.65" height="40.5" fill="#fff"/>
<g stroke="#e4e4e4" fill="none"><path d="M100.05 521.4h57.65" stroke-width="0.3"/><path d="M100.05 515.38h57.65" stroke-width="0.15"/><path d="M100.05 509.35h57.65" stroke-width="0.3"/><path d="M100.05 503.33h57.65" stroke-width="0.15"/><path d="M100.05 497.31h57.65" stroke-width="0.3"/><path d="M100.05 491.28h57.65" stroke-width="0.15"/><path d="M100.05 485.26h57.65" stroke-width="0.3"/><path d="M108.29 482.9v40.5" stroke-width="0.3"/><path d="M122.01 482.9v40.5" stroke-width="0.3"/><path d="M135.74 482.9v40.5" stroke-width="0.3"/><path d="M149.46 482.9v40.5" stroke-width="0.3"/></g>
<g fill="#A6CEE3"><rect x="102.11" y="484.9" width="12.35" height="36.5"/><rect x="115.84" y="484.9" width="12.35" height="36.5"/><rect x="129.56" y="493.93" width="12.35" height="27.47"/><rect x="143.29" y="497.79" width="12.35" height="23.61"/></g>
<rect x="100.05" y="482.9" width="57.65" height="40.5" fill="none" stroke="#a8a8a8" stroke-width="0.5"/>
<rect x="100.05" y="474.8" width="57.65" height="8.1" fill="#d9d9d9" stroke="#999" stroke-width="0.45"/>
<svg x="100.25" y="474.8" width="57.25" height="8.1" overflow="hidden"><text transform="translate(28.62 5.65) rotate(0.2)" text-anchor="middle" font-style="italic" font-size="4.25" fill="#000">u.Sphingobacteriales_NS11-12</text></svg>
<path d="M98.65 521.4h1.3M98.65 509.35h1.3M98.65 497.31h1.3M98.65 485.26h1.3M108.29 523.5v1.3M122.01 523.5v1.3M135.74 523.5v1.3M149.46 523.5v1.3" stroke="#444" stroke-width="0.75" fill="none"/>
<g text-anchor="end" font-size="4.9" fill="#3c3c3c"><text transform="translate(97.55 523.4) rotate(0.2)">0</text><text transform="translate(97.55 511.35) rotate(0.2)">1</text><text transform="translate(97.55 499.31) rotate(0.2)">2</text><text transform="translate(97.55 487.26) rotate(0.2)">3</text></g>
<g text-anchor="end" font-size="4.6" fill="#444"><text transform="translate(110.69 528.6) rotate(-45)">WT ambient</text><text transform="translate(124.41 528.6) rotate(-45)">WT elevated</text><text transform="translate(138.14 528.6) rotate(-45)">SS ambient</text><text transform="translate(151.86 528.6) rotate(-45)">SS elevated</text></g>
</g>
<g>
<rect x="277.06" y="27.25" width="55.9" height="43.6" fill="#fff"/>
<g stroke="#e4e4e4" fill="none"><path d="M277.06 68.95h55.9" stroke-width="0.3"/><path d="M277.06 63.55h55.9" stroke-width="0.15"/><path d="M277.06 58.16h55.9" stroke-width="0.3"/><path d="M277.06 52.76h55.9" stroke-width="0.15"/><path d="M277.06 47.37h55.9" stroke-width="0.3"/><path d="M277.06 41.97h55.9" stroke-width="0.15"/><path d="M277.06 36.58h55.9" stroke-width="0.3"/><path d="M277.06 31.18h55.9" stroke-width="0.15"/><path d="M285.05 27.25v43.6" stroke-width="0.3"/><path d="M298.36 27.25v43.6" stroke-width="0.3"/><path d="M311.66 27.25v43.6" stroke-width="0.3"/><path d="M324.97 27.25v43.6" stroke-width="0.3"/></g>
<g fill="#B15928"><rect x="279.06" y="29.8" width="11.98" height="39.15"/><rect x="292.37" y="49.66" width="11.98" height="19.29"/><rect x="305.68" y="54.27" width="11.98" height="14.68"/><rect x="318.99" y="55.14" width="11.98" height="13.81"/></g>
<rect x="277.06" y="27.25" width="55.9" height="43.6" fill="none" stroke="#a8a8a8" stroke-width="0.5"/>
<rect x="277.06" y="19.95" width="55.9" height="7.3" fill="#d9d9d9" stroke="#999" stroke-width="0.45"/>
<svg x="277.26" y="19.95" width="55.5" height="7.3" overflow="hidden"><text transform="translate(27.75 5.25) rotate(0.2)" text-anchor="middle" font-style="italic" font-size="4.25" fill="#000">Balneola</text></svg>
<path d="M275.66 68.95h1.3M275.66 58.16h1.3M275.66 47.37h1.3M275.66 36.58h1.3M285.05 70.95v1.3M298.36 70.95v1.3M311.66 70.95v1.3M324.97 70.95v1.3" stroke="#444" stroke-width="0.75" fill="none"/>
<g text-anchor="end" font-size="4.9" fill="#3c3c3c"><text transform="translate(274.56 70.95) rotate(0.2)">0.0</text><text transform="translate(274.56 60.16) rotate(0.2)">2.5</text><text transform="translate(274.56 49.37) rotate(0.2)">5.0</text><text transform="translate(274.56 38.58) rotate(0.2)">7.5</text></g>
<g text-anchor="end" font-size="4.45" fill="#444"><text transform="translate(286.75 76.65) rotate(-45)">WT day 2</text><text transform="translate(300.06 76.65) rotate(-45)">WT day 18</text><text transform="translate(313.36 76.65) rotate(-45)">SS day 2</text><text transform="translate(326.67 76.65) rotate(-45)">SS day 18</text></g>
</g>
<g>
<rect x="346.9" y="27.25" width="55.9" height="43.6" fill="#fff"/>
<g stroke="#e4e4e4" fill="none"><path d="M346.9 68.95h55.9" stroke-width="0.3"/><path d="M346.9 63.59h55.9" stroke-width="0.15"/><path d="M346.9 58.22h55.9" stroke-width="0.3"/><path d="M346.9 52.86h55.9" stroke-width="0.15"/><path d="M346.9 47.5h55.9" stroke-width="0.3"/><path d="M346.9 42.13h55.9" stroke-width="0.15"/><path d="M346.9 36.77h55.9" stroke-width="0.3"/><path d="M346.9 31.41h55.9" stroke-width="0.15"/><path d="M354.89 27.25v43.6" stroke-width="0.3"/><path d="M368.2 27.25v43.6" stroke-width="0.3"/><path d="M381.5 27.25v43.6" stroke-width="0.3"/><path d="M394.81 27.25v43.6" stroke-width="0.3"/></g>
<g fill="#DEB969"><rect x="348.9" y="29.8" width="11.98" height="39.15"/><rect x="362.21" y="49.21" width="11.98" height="19.74"/><rect x="375.52" y="64.55" width="11.98" height="4.4"/><rect x="388.82" y="64.82" width="11.98" height="4.13"/></g>
<rect x="346.9" y="27.25" width="55.9" height="43.6" fill="none" stroke="#a8a8a8" stroke-width="0.5"/>
<rect x="346.9" y="19.95" width="55.9" height="7.3" fill="#d9d9d9" stroke="#999" stroke-width="0.45"/>
<svg x="347.1" y="19.95" width="55.5" height="7.3" overflow="hidden"><text transform="translate(27.75 5.25) rotate(0.2)" text-anchor="middle" font-style="italic" font-size="4.25" fill="#000">Fabibacter</text></svg>
<path d="M345.5 68.95h1.3M345.5 58.22h1.3M345.5 47.5h1.3M345.5 36.77h1.3M354.89 70.95v1.3M368.2 70.95v1.3M381.5 70.95v1.3M394.81 70.95v1.3" stroke="#444" stroke-width="0.75" fill="none"/>
<g text-anchor="end" font-size="4.9" fill="#3c3c3c"><text transform="translate(344.4 70.95) rotate(0.2)">0</text><text transform="translate(344.4 60.22) rotate(0.2)">2</text><text transform="translate(344.4 49.5) rotate(0.2)">4</text><text transform="translate(344.4 38.77) rotate(0.2)">6</text></g>
<g text-anchor="end" font-size="4.45" fill="#444"><text transform="translate(356.59 76.65) rotate(-45)">WT day 2</text><text transform="translate(369.9 76.65) rotate(-45)">WT day 18</text><text transform="translate(383.2 76.65) rotate(-45)">SS day 2</text><text transform="translate(396.51 76.65) rotate(-45)">SS day 18</text></g>
</g>
<g>
<rect x="416.55" y="27.25" width="55.9" height="43.6" fill="#fff"/>
<g stroke="#e4e4e4" fill="none"><path d="M416.55 68.95h55.9" stroke-width="0.3"/><path d="M416.55 63.54h55.9" stroke-width="0.15"/><path d="M416.55 58.14h55.9" stroke-width="0.3"/><path d="M416.55 52.73h55.9" stroke-width="0.15"/><path d="M416.55 47.32h55.9" stroke-width="0.3"/><path d="M416.55 41.91h55.9" stroke-width="0.15"/><path d="M416.55 36.51h55.9" stroke-width="0.3"/><path d="M416.55 31.1h55.9" stroke-width="0.15"/><path d="M424.54 27.25v43.6" stroke-width="0.3"/><path d="M437.85 27.25v43.6" stroke-width="0.3"/><path d="M451.15 27.25v43.6" stroke-width="0.3"/><path d="M464.46 27.25v43.6" stroke-width="0.3"/></g>
<g fill="#E7E099"><rect x="418.55" y="44.72" width="11.98" height="24.23"/><rect x="431.86" y="29.8" width="11.98" height="39.15"/><rect x="445.17" y="54.46" width="11.98" height="14.49"/><rect x="458.48" y="38.67" width="11.98" height="30.28"/></g>
<rect x="416.55" y="27.25" width="55.9" height="43.6" fill="none" stroke="#a8a8a8" stroke-width="0.5"/>
<rect x="416.55" y="19.95" width="55.9" height="7.3" fill="#d9d9d9" stroke="#999" stroke-width="0.45"/>
<svg x="416.75" y="19.95" width="55.5" height="7.3" overflow="hidden"><text transform="translate(27.75 5.25) rotate(0.2)" text-anchor="middle" font-style="italic" font-size="4.25" fill="#000">Fodinicurvata</text></svg>
<path d="M415.15 68.95h1.3M415.15 58.14h1.3M415.15 47.32h1.3M415.15 36.51h1.3M424.54 70.95v1.3M437.85 70.95v1.3M451.15 70.95v1.3M464.46 70.95v1.3" stroke="#444" stroke-width="0.75" fill="none"/>
<g text-anchor="end" font-size="4.9" fill="#3c3c3c"><text transform="translate(414.05 70.95) rotate(0.2)">0.0</text><text transform="translate(414.05 60.14) rotate(0.2)">0.5</text><text transform="translate(414.05 49.32) rotate(0.2)">1.0</text><text transform="translate(414.05 38.51) rotate(0.2)">1.5</text></g>
<g text-anchor="end" font-size="4.45" fill="#444"><text transform="translate(426.24 76.65) rotate(-45)">WT day 2</text><text transform="translate(439.55 76.65) rotate(-45)">WT day 18</text><text transform="translate(452.85 76.65) rotate(-45)">SS day 2</text><text transform="translate(466.16 76.65) rotate(-45)">SS day 18</text></g>
</g>
<g>
<rect x="277.06" y="102.15" width="55.9" height="43.6" fill="#fff"/>
<g stroke="#e4e4e4" fill="none"><path d="M277.06 143.85h55.9" stroke-width="0.3"/><path d="M277.06 137.17h55.9" stroke-width="0.15"/><path d="M277.06 130.49h55.9" stroke-width="0.3"/><path d="M277.06 123.81h55.9" stroke-width="0.15"/><path d="M277.06 117.13h55.9" stroke-width="0.3"/><path d="M277.06 110.45h55.9" stroke-width="0.15"/><path d="M277.06 103.76h55.9" stroke-width="0.3"/><path d="M285.05 102.15v43.6" stroke-width="0.3"/><path d="M298.36 102.15v43.6" stroke-width="0.3"/><path d="M311.66 102.15v43.6" stroke-width="0.3"/><path d="M324.97 102.15v43.6" stroke-width="0.3"/></g>
<g fill="#91709A"><rect x="279.06" y="130.62" width="11.98" height="13.23"/><rect x="292.37" y="130.89" width="11.98" height="12.96"/><rect x="305.68" y="109.11" width="11.98" height="34.74"/><rect x="318.99" y="104.7" width="11.98" height="39.15"/></g>
<rect x="277.06" y="102.15" width="55.9" height="43.6" fill="none" stroke="#a8a8a8" stroke-width="0.5"/>
<rect x="277.06" y="94.85" width="55.9" height="7.3" fill="#d9d9d9" stroke="#999" stroke-width="0.45"/>
<svg x="277.26" y="94.85" width="55.5" height="7.3" overflow="hidden"><text transform="translate(27.75 5.25) rotate(0.2)" text-anchor="middle" font-style="italic" font-size="4.25" fill="#000">Hyphobacterium</text></svg>
<path d="M275.66 143.85h1.3M275.66 130.49h1.3M275.66 117.13h1.3M275.66 103.76h1.3M285.05 145.85v1.3M298.36 145.85v1.3M311.66 145.85v1.3M324.97 145.85v1.3" stroke="#444" stroke-width="0.75" fill="none"/>
<g text-anchor="end" font-size="4.9" fill="#3c3c3c"><text transform="translate(274.56 145.85) rotate(0.2)">0</text><text transform="translate(274.56 132.49) rotate(0.2)">2</text><text transform="translate(274.56 119.13) rotate(0.2)">4</text><text transform="translate(274.56 105.76) rotate(0.2)">6</text></g>
<g text-anchor="end" font-size="4.45" fill="#444"><text transform="translate(286.75 151.55) rotate(-45)">WT day 2</text><text transform="translate(300.06 151.55) rotate(-45)">WT day 18</text><text transform="translate(313.36 151.55) rotate(-45)">SS day 2</text><text transform="translate(326.67 151.55) rotate(-45)">SS day 18</text></g>
</g>
<g>
<rect x="346.9" y="102.15" width="55.9" height="43.6" fill="#fff"/>
<g stroke="#e4e4e4" fill="none"><path d="M346.9 143.85h55.9" stroke-width="0.3"/><path d="M346.9 139.84h55.9" stroke-width="0.15"/><path d="M346.9 135.83h55.9" stroke-width="0.3"/><path d="M346.9 131.82h55.9" stroke-width="0.15"/><path d="M346.9 127.8h55.9" stroke-width="0.3"/><path d="M346.9 123.79h55.9" stroke-width="0.15"/><path d="M346.9 119.78h55.9" stroke-width="0.3"/><path d="M346.9 115.77h55.9" stroke-width="0.15"/><path d="M346.9 111.76h55.9" stroke-width="0.3"/><path d="M346.9 107.75h55.9" stroke-width="0.15"/><path d="M346.9 103.74h55.9" stroke-width="0.3"/><path d="M354.89 102.15v43.6" stroke-width="0.3"/><path d="M368.2 102.15v43.6" stroke-width="0.3"/><path d="M381.5 102.15v43.6" stroke-width="0.3"/><path d="M394.81 102.15v43.6" stroke-width="0.3"/></g>
<g fill="#8862AD"><rect x="348.9" y="131.17" width="11.98" height="12.68"/><rect x="362.21" y="132.94" width="11.98" height="10.91"/><rect x="375.52" y="104.7" width="11.98" height="39.15"/><rect x="388.82" y="117.86" width="11.98" height="25.99"/></g>
<rect x="346.9" y="102.15" width="55.9" height="43.6" fill="none" stroke="#a8a8a8" stroke-width="0.5"/>
<rect x="346.9" y="94.85" width="55.9" height="7.3" fill="#d9d9d9" stroke="#999" stroke-width="0.45"/>
<svg x="347.1" y="94.85" width="55.5" height="7.3" overflow="hidden"><text transform="translate(27.75 5.25) rotate(0.2)" text-anchor="middle" font-style="italic" font-size="4.25" fill="#000">Labrenzia</text></svg>
<path d="M345.5 143.85h1.3M345.5 135.83h1.3M345.5 127.8h1.3M345.5 119.78h1.3M345.5 111.76h1.3M345.5 103.74h1.3M354.89 145.85v1.3M368.2 145.85v1.3M381.5 145.85v1.3M394.81 145.85v1.3" stroke="#444" stroke-width="0.75" fill="none"/>
<g text-anchor="end" font-size="4.9" fill="#3c3c3c"><text transform="translate(344.4 145.85) rotate(0.2)">0.0</text><text transform="translate(344.4 137.83) rotate(0.2)">2.5</text><text transform="translate(344.4 129.8) rotate(0.2)">5.0</text><text transform="translate(344.4 121.78) rotate(0.2)">7.5</text><text transform="translate(344.4 113.76) rotate(0.2)">10.0</text><text transform="translate(344.4 105.74) rotate(0.2)">12.5</text></g>
<g text-anchor="end" font-size="4.45" fill="#444"><text transform="translate(356.59 151.55) rotate(-45)">WT day 2</text><text transform="translate(369.9 151.55) rotate(-45)">WT day 18</text><text transform="translate(383.2 151.55) rotate(-45)">SS day 2</text><text transform="translate(396.51 151.55) rotate(-45)">SS day 18</text></g>
</g>
<g>
<rect x="416.55" y="102.15" width="55.9" height="43.6" fill="#fff"/>
<g stroke="#e4e4e4" fill="none"><path d="M416.55 143.85h55.9" stroke-width="0.3"/><path d="M416.55 138.96h55.9" stroke-width="0.15"/><path d="M416.55 134.06h55.9" stroke-width="0.3"/><path d="M416.55 129.17h55.9" stroke-width="0.15"/><path d="M416.55 124.27h55.9" stroke-width="0.3"/><path d="M416.55 119.38h55.9" stroke-width="0.15"/><path d="M416.55 114.49h55.9" stroke-width="0.3"/><path d="M416.55 109.59h55.9" stroke-width="0.15"/><path d="M416.55 104.7h55.9" stroke-width="0.3"/><path d="M424.54 102.15v43.6" stroke-width="0.3"/><path d="M437.85 102.15v43.6" stroke-width="0.3"/><path d="M451.15 102.15v43.6" stroke-width="0.3"/><path d="M464.46 102.15v43.6" stroke-width="0.3"/></g>
<g fill="#C0A6D0"><rect x="418.55" y="114.1" width="11.98" height="29.75"/><rect x="431.86" y="109.12" width="11.98" height="34.73"/><rect x="445.17" y="123.26" width="11.98" height="20.59"/><rect x="458.48" y="104.7" width="11.98" height="39.15"/></g>
<rect x="416.55" y="102.15" width="55.9" height="43.6" fill="none" stroke="#a8a8a8" stroke-width="0.5"/>
<rect x="416.55" y="94.85" width="55.9" height="7.3" fill="#d9d9d9" stroke="#999" stroke-width="0.45"/>
<svg x="416.75" y="94.85" width="55.5" height="7.3" overflow="hidden"><text transform="translate(27.75 5.25) rotate(0.2)" text-anchor="middle" font-style="italic" font-size="4.25" fill="#000">Marinobacter</text></svg>
<path d="M415.15 143.85h1.3M415.15 134.06h1.3M415.15 124.27h1.3M415.15 114.49h1.3M415.15 104.7h1.3M424.54 145.85v1.3M437.85 145.85v1.3M451.15 145.85v1.3M464.46 145.85v1.3" stroke="#444" stroke-width="0.75" fill="none"/>
<g text-anchor="end" font-size="4.9" fill="#3c3c3c"><text transform="translate(414.05 145.85) rotate(0.2)">0.0</text><text transform="translate(414.05 136.06) rotate(0.2)">2.5</text><text transform="translate(414.05 126.27) rotate(0.2)">5.0</text><text transform="translate(414.05 116.49) rotate(0.2)">7.5</text><text transform="translate(414.05 106.7) rotate(0.2)">10.0</text></g>
<g text-anchor="end" font-size="4.45" fill="#444"><text transform="translate(426.24 151.55) rotate(-45)">WT day 2</text><text transform="translate(439.55 151.55) rotate(-45)">WT day 18</text><text transform="translate(452.85 151.55) rotate(-45)">SS day 2</text><text transform="translate(466.16 151.55) rotate(-45)">SS day 18</text></g>
</g>
<g>
<rect x="277.06" y="177.05" width="55.9" height="43.6" fill="#fff"/>
<g stroke="#e4e4e4" fill="none"><path d="M277.06 218.75h55.9" stroke-width="0.3"/><path d="M277.06 211.18h55.9" stroke-width="0.15"/><path d="M277.06 203.6h55.9" stroke-width="0.3"/><path d="M277.06 196.03h55.9" stroke-width="0.15"/><path d="M277.06 188.46h55.9" stroke-width="0.3"/><path d="M277.06 180.89h55.9" stroke-width="0.15"/><path d="M285.05 177.05v43.6" stroke-width="0.3"/><path d="M298.36 177.05v43.6" stroke-width="0.3"/><path d="M311.66 177.05v43.6" stroke-width="0.3"/><path d="M324.97 177.05v43.6" stroke-width="0.3"/></g>
<g fill="#E39A71"><rect x="279.06" y="199.89" width="11.98" height="18.86"/><rect x="292.37" y="179.6" width="11.98" height="39.15"/><rect x="305.68" y="182.02" width="11.98" height="36.73"/><rect x="318.99" y="182.86" width="11.98" height="35.89"/></g>
<rect x="277.06" y="177.05" width="55.9" height="43.6" fill="none" stroke="#a8a8a8" stroke-width="0.5"/>
<rect x="277.06" y="169.75" width="55.9" height="7.3" fill="#d9d9d9" stroke="#999" stroke-width="0.45"/>
<svg x="277.26" y="169.75" width="55.5" height="7.3" overflow="hidden"><text transform="translate(27.75 5.25) rotate(0.2)" text-anchor="middle" font-style="italic" font-size="4.25" fill="#000">Marinoscillum</text></svg>
<path d="M275.66 218.75h1.3M275.66 203.6h1.3M275.66 188.46h1.3M285.05 220.75v1.3M298.36 220.75v1.3M311.66 220.75v1.3M324.97 220.75v1.3" stroke="#444" stroke-width="0.75" fill="none"/>
<g text-anchor="end" font-size="4.9" fill="#3c3c3c"><text transform="translate(274.56 220.75) rotate(0.2)">0</text><text transform="translate(274.56 205.6) rotate(0.2)">2</text><text transform="translate(274.56 190.46) rotate(0.2)">4</text></g>
<g text-anchor="end" font-size="4.45" fill="#444"><text transform="translate(286.75 226.45) rotate(-45)">WT day 2</text><text transform="translate(300.06 226.45) rotate(-45)">WT day 18</text><text transform="translate(313.36 226.45) rotate(-45)">SS day 2</text><text transform="translate(326.67 226.45) rotate(-45)">SS day 18</text></g>
</g>
<g>
<rect x="346.9" y="177.05" width="55.9" height="43.6" fill="#fff"/>
<g stroke="#e4e4e4" fill="none"><path d="M346.9 218.75h55.9" stroke-width="0.3"/><path d="M346.9 212.78h55.9" stroke-width="0.15"/><path d="M346.9 206.81h55.9" stroke-width="0.3"/><path d="M346.9 200.85h55.9" stroke-width="0.15"/><path d="M346.9 194.88h55.9" stroke-width="0.3"/><path d="M346.9 188.91h55.9" stroke-width="0.15"/><path d="M346.9 182.94h55.9" stroke-width="0.3"/><path d="M354.89 177.05v43.6" stroke-width="0.3"/><path d="M368.2 177.05v43.6" stroke-width="0.3"/><path d="M381.5 177.05v43.6" stroke-width="0.3"/><path d="M394.81 177.05v43.6" stroke-width="0.3"/></g>
<g fill="#FF8206"><rect x="348.9" y="181.99" width="11.98" height="36.76"/><rect x="362.21" y="191.06" width="11.98" height="27.69"/><rect x="375.52" y="200.85" width="11.98" height="17.9"/><rect x="388.82" y="179.6" width="11.98" height="39.15"/></g>
<rect x="346.9" y="177.05" width="55.9" height="43.6" fill="none" stroke="#a8a8a8" stroke-width="0.5"/>
<rect x="346.9" y="169.75" width="55.9" height="7.3" fill="#d9d9d9" stroke="#999" stroke-width="0.45"/>
<svg x="347.1" y="169.75" width="55.5" height="7.3" overflow="hidden"><text transform="translate(27.75 5.25) rotate(0.2)" text-anchor="middle" font-style="italic" font-size="4.25" fill="#000">Nisaea</text></svg>
<path d="M345.5 218.75h1.3M345.5 206.81h1.3M345.5 194.88h1.3M345.5 182.94h1.3M354.89 220.75v1.3M368.2 220.75v1.3M381.5 220.75v1.3M394.81 220.75v1.3" stroke="#444" stroke-width="0.75" fill="none"/>
<g text-anchor="end" font-size="4.9" fill="#3c3c3c"><text transform="translate(344.4 220.75) rotate(0.2)">0.0</text><text transform="translate(344.4 208.81) rotate(0.2)">0.5</text><text transform="translate(344.4 196.88) rotate(0.2)">1.0</text><text transform="translate(344.4 184.94) rotate(0.2)">1.5</text></g>
<g text-anchor="end" font-size="4.45" fill="#444"><text transform="translate(356.59 226.45) rotate(-45)">WT day 2</text><text transform="translate(369.9 226.45) rotate(-45)">WT day 18</text><text transform="translate(383.2 226.45) rotate(-45)">SS day 2</text><text transform="translate(396.51 226.45) rotate(-45)">SS day 18</text></g>
</g>
<g>
<rect x="416.55" y="177.05" width="55.9" height="43.6" fill="#fff"/>
<g stroke="#e4e4e4" fill="none"><path d="M416.55 218.75h55.9" stroke-width="0.3"/><path d="M416.55 214.11h55.9" stroke-width="0.15"/><path d="M416.55 209.47h55.9" stroke-width="0.3"/><path d="M416.55 204.83h55.9" stroke-width="0.15"/><path d="M416.55 200.2h55.9" stroke-width="0.3"/><path d="M416.55 195.56h55.9" stroke-width="0.15"/><path d="M416.55 190.92h55.9" stroke-width="0.3"/><path d="M416.55 186.28h55.9" stroke-width="0.15"/><path d="M416.55 181.64h55.9" stroke-width="0.3"/><path d="M416.55 177h55.9" stroke-width="0.15"/><path d="M424.54 177.05v43.6" stroke-width="0.3"/><path d="M437.85 177.05v43.6" stroke-width="0.3"/><path d="M451.15 177.05v43.6" stroke-width="0.3"/><path d="M464.46 177.05v43.6" stroke-width="0.3"/></g>
<g fill="#FEA746"><rect x="418.55" y="207.8" width="11.98" height="10.95"/><rect x="431.86" y="204.83" width="11.98" height="13.92"/><rect x="445.17" y="201.12" width="11.98" height="17.63"/><rect x="458.48" y="179.6" width="11.98" height="39.15"/></g>
<rect x="416.55" y="177.05" width="55.9" height="43.6" fill="none" stroke="#a8a8a8" stroke-width="0.5"/>
<rect x="416.55" y="169.75" width="55.9" height="7.3" fill="#d9d9d9" stroke="#999" stroke-width="0.45"/>
<svg x="416.75" y="169.75" width="55.5" height="7.3" overflow="hidden"><text transform="translate(27.75 5.25) rotate(0.2)" text-anchor="middle" font-style="italic" font-size="4.25" fill="#000">Pseudohongiella</text></svg>
<path d="M415.15 218.75h1.3M415.15 209.47h1.3M415.15 200.2h1.3M415.15 190.92h1.3M415.15 181.64h1.3M424.54 220.75v1.3M437.85 220.75v1.3M451.15 220.75v1.3M464.46 220.75v1.3" stroke="#444" stroke-width="0.75" fill="none"/>
<g text-anchor="end" font-size="4.9" fill="#3c3c3c"><text transform="translate(414.05 220.75) rotate(0.2)">0.0</text><text transform="translate(414.05 211.47) rotate(0.2)">0.5</text><text transform="translate(414.05 202.2) rotate(0.2)">1.0</text><text transform="translate(414.05 192.92) rotate(0.2)">1.5</text><text transform="translate(414.05 183.64) rotate(0.2)">2.0</text></g>
<g text-anchor="end" font-size="4.45" fill="#444"><text transform="translate(426.24 226.45) rotate(-45)">WT day 2</text><text transform="translate(439.55 226.45) rotate(-45)">WT day 18</text><text transform="translate(452.85 226.45) rotate(-45)">SS day 2</text><text transform="translate(466.16 226.45) rotate(-45)">SS day 18</text></g>
</g>
<g>
<rect x="277.06" y="251.95" width="55.9" height="43.6" fill="#fff"/>
<g stroke="#e4e4e4" fill="none"><path d="M277.06 293.65h55.9" stroke-width="0.3"/><path d="M277.06 288.43h55.9" stroke-width="0.15"/><path d="M277.06 283.21h55.9" stroke-width="0.3"/><path d="M277.06 277.99h55.9" stroke-width="0.15"/><path d="M277.06 272.77h55.9" stroke-width="0.3"/><path d="M277.06 267.55h55.9" stroke-width="0.15"/><path d="M277.06 262.33h55.9" stroke-width="0.3"/><path d="M277.06 257.11h55.9" stroke-width="0.15"/><path d="M285.05 251.95v43.6" stroke-width="0.3"/><path d="M298.36 251.95v43.6" stroke-width="0.3"/><path d="M311.66 251.95v43.6" stroke-width="0.3"/><path d="M324.97 251.95v43.6" stroke-width="0.3"/></g>
<g fill="#F79C5D"><rect x="279.06" y="273.5" width="11.98" height="20.15"/><rect x="292.37" y="254.5" width="11.98" height="39.15"/><rect x="305.68" y="270.26" width="11.98" height="23.39"/><rect x="318.99" y="262.12" width="11.98" height="31.53"/></g>
<rect x="277.06" y="251.95" width="55.9" height="43.6" fill="none" stroke="#a8a8a8" stroke-width="0.5"/>
<rect x="277.06" y="244.65" width="55.9" height="7.3" fill="#d9d9d9" stroke="#999" stroke-width="0.45"/>
<svg x="277.26" y="244.65" width="55.5" height="7.3" overflow="hidden"><text transform="translate(27.75 5.25) rotate(0.2)" text-anchor="middle" font-style="italic" font-size="4.25" fill="#000">Reichenbachiella</text></svg>
<path d="M275.66 293.65h1.3M275.66 283.21h1.3M275.66 272.77h1.3M275.66 262.33h1.3M285.05 295.65v1.3M298.36 295.65v1.3M311.66 295.65v1.3M324.97 295.65v1.3" stroke="#444" stroke-width="0.75" fill="none"/>
<g text-anchor="end" font-size="4.9" fill="#3c3c3c"><text transform="translate(274.56 295.65) rotate(0.2)">0</text><text transform="translate(274.56 285.21) rotate(0.2)">1</text><text transform="translate(274.56 274.77) rotate(0.2)">2</text><text transform="translate(274.56 264.33) rotate(0.2)">3</text></g>
<g text-anchor="end" font-size="4.45" fill="#444"><text transform="translate(286.75 301.35) rotate(-45)">WT day 2</text><text transform="translate(300.06 301.35) rotate(-45)">WT day 18</text><text transform="translate(313.36 301.35) rotate(-45)">SS day 2</text><text transform="translate(326.67 301.35) rotate(-45)">SS day 18</text></g>
</g>
<g>
<rect x="346.9" y="251.95" width="55.9" height="43.6" fill="#fff"/>
<g stroke="#e4e4e4" fill="none"><path d="M346.9 293.65h55.9" stroke-width="0.3"/><path d="M346.9 288.19h55.9" stroke-width="0.15"/><path d="M346.9 282.73h55.9" stroke-width="0.3"/><path d="M346.9 277.27h55.9" stroke-width="0.15"/><path d="M346.9 271.81h55.9" stroke-width="0.3"/><path d="M346.9 266.35h55.9" stroke-width="0.15"/><path d="M346.9 260.89h55.9" stroke-width="0.3"/><path d="M346.9 255.43h55.9" stroke-width="0.15"/><path d="M354.89 251.95v43.6" stroke-width="0.3"/><path d="M368.2 251.95v43.6" stroke-width="0.3"/><path d="M381.5 251.95v43.6" stroke-width="0.3"/><path d="M394.81 251.95v43.6" stroke-width="0.3"/></g>
<g fill="#E83D2D"><rect x="348.9" y="289.28" width="11.98" height="4.37"/><rect x="362.21" y="287.53" width="11.98" height="6.12"/><rect x="375.52" y="270.88" width="11.98" height="22.77"/><rect x="388.82" y="254.5" width="11.98" height="39.15"/></g>
<rect x="346.9" y="251.95" width="55.9" height="43.6" fill="none" stroke="#a8a8a8" stroke-width="0.5"/>
<rect x="346.9" y="244.65" width="55.9" height="7.3" fill="#d9d9d9" stroke="#999" stroke-width="0.45"/>
<svg x="347.1" y="244.65" width="55.5" height="7.3" overflow="hidden"><text transform="translate(27.75 5.25) rotate(0.2)" text-anchor="middle" font-style="italic" font-size="4.25" fill="#000">Roseitalea</text></svg>
<path d="M345.5 293.65h1.3M345.5 282.73h1.3M345.5 271.81h1.3M345.5 260.89h1.3M354.89 295.65v1.3M368.2 295.65v1.3M381.5 295.65v1.3M394.81 295.65v1.3" stroke="#444" stroke-width="0.75" fill="none"/>
<g text-anchor="end" font-size="4.9" fill="#3c3c3c"><text transform="translate(344.4 295.65) rotate(0.2)">0</text><text transform="translate(344.4 284.73) rotate(0.2)">2</text><text transform="translate(344.4 273.81) rotate(0.2)">4</text><text transform="translate(344.4 262.89) rotate(0.2)">6</text></g>
<g text-anchor="end" font-size="4.45" fill="#444"><text transform="translate(356.59 301.35) rotate(-45)">WT day 2</text><text transform="translate(369.9 301.35) rotate(-45)">WT day 18</text><text transform="translate(383.2 301.35) rotate(-45)">SS day 2</text><text transform="translate(396.51 301.35) rotate(-45)">SS day 18</text></g>
</g>
<g>
<rect x="416.55" y="251.95" width="55.9" height="43.6" fill="#fff"/>
<g stroke="#e4e4e4" fill="none"><path d="M416.55 293.65h55.9" stroke-width="0.3"/><path d="M416.55 287.75h55.9" stroke-width="0.15"/><path d="M416.55 281.84h55.9" stroke-width="0.3"/><path d="M416.55 275.94h55.9" stroke-width="0.15"/><path d="M416.55 270.03h55.9" stroke-width="0.3"/><path d="M416.55 264.13h55.9" stroke-width="0.15"/><path d="M416.55 258.22h55.9" stroke-width="0.3"/><path d="M416.55 252.32h55.9" stroke-width="0.15"/><path d="M424.54 251.95v43.6" stroke-width="0.3"/><path d="M437.85 251.95v43.6" stroke-width="0.3"/><path d="M451.15 251.95v43.6" stroke-width="0.3"/><path d="M464.46 251.95v43.6" stroke-width="0.3"/></g>
<g fill="#EC494A"><rect x="418.55" y="270.62" width="11.98" height="23.03"/><rect x="431.86" y="261.17" width="11.98" height="32.48"/><rect x="445.17" y="254.5" width="11.98" height="39.15"/><rect x="458.48" y="255.27" width="11.98" height="38.38"/></g>
<rect x="416.55" y="251.95" width="55.9" height="43.6" fill="none" stroke="#a8a8a8" stroke-width="0.5"/>
<rect x="416.55" y="244.65" width="55.9" height="7.3" fill="#d9d9d9" stroke="#999" stroke-width="0.45"/>
<svg x="416.75" y="244.65" width="55.5" height="7.3" overflow="hidden"><text transform="translate(27.75 5.25) rotate(0.2)" text-anchor="middle" font-style="italic" font-size="4.25" fill="#000">SM1A02</text></svg>
<path d="M415.15 293.65h1.3M415.15 281.84h1.3M415.15 270.03h1.3M415.15 258.22h1.3M424.54 295.65v1.3M437.85 295.65v1.3M451.15 295.65v1.3M464.46 295.65v1.3" stroke="#444" stroke-width="0.75" fill="none"/>
<g text-anchor="end" font-size="4.9" fill="#3c3c3c"><text transform="translate(414.05 295.65) rotate(0.2)">0</text><text transform="translate(414.05 283.84) rotate(0.2)">2</text><text transform="translate(414.05 272.03) rotate(0.2)">4</text><text transform="translate(414.05 260.22) rotate(0.2)">6</text></g>
<g text-anchor="end" font-size="4.45" fill="#444"><text transform="translate(426.24 301.35) rotate(-45)">WT day 2</text><text transform="translate(439.55 301.35) rotate(-45)">WT day 18</text><text transform="translate(452.85 301.35) rotate(-45)">SS day 2</text><text transform="translate(466.16 301.35) rotate(-45)">SS day 18</text></g>
</g>
<g>
<rect x="277.06" y="326.85" width="55.9" height="43.6" fill="#fff"/>
<g stroke="#e4e4e4" fill="none"><path d="M277.06 368.55h55.9" stroke-width="0.3"/><path d="M277.06 363.06h55.9" stroke-width="0.15"/><path d="M277.06 357.57h55.9" stroke-width="0.3"/><path d="M277.06 352.09h55.9" stroke-width="0.15"/><path d="M277.06 346.6h55.9" stroke-width="0.3"/><path d="M277.06 341.11h55.9" stroke-width="0.15"/><path d="M277.06 335.62h55.9" stroke-width="0.3"/><path d="M277.06 330.13h55.9" stroke-width="0.15"/><path d="M285.05 326.85v43.6" stroke-width="0.3"/><path d="M298.36 326.85v43.6" stroke-width="0.3"/><path d="M311.66 326.85v43.6" stroke-width="0.3"/><path d="M324.97 326.85v43.6" stroke-width="0.3"/></g>
<g fill="#FA9392"><rect x="279.06" y="352.67" width="11.98" height="15.88"/><rect x="292.37" y="329.4" width="11.98" height="39.15"/><rect x="305.68" y="361.78" width="11.98" height="6.77"/><rect x="318.99" y="358.56" width="11.98" height="9.99"/></g>
<rect x="277.06" y="326.85" width="55.9" height="43.6" fill="none" stroke="#a8a8a8" stroke-width="0.5"/>
<rect x="277.06" y="319.55" width="55.9" height="7.3" fill="#d9d9d9" stroke="#999" stroke-width="0.45"/>
<svg x="277.26" y="319.55" width="55.5" height="7.3" overflow="hidden"><text transform="translate(27.75 5.25) rotate(0.2)" text-anchor="middle" font-style="italic" font-size="4.25" fill="#000">Tropicimonas</text></svg>
<path d="M275.66 368.55h1.3M275.66 357.57h1.3M275.66 346.6h1.3M275.66 335.62h1.3M285.05 370.55v1.3M298.36 370.55v1.3M311.66 370.55v1.3M324.97 370.55v1.3" stroke="#444" stroke-width="0.75" fill="none"/>
<g text-anchor="end" font-size="4.9" fill="#3c3c3c"><text transform="translate(274.56 370.55) rotate(0.2)">0</text><text transform="translate(274.56 359.57) rotate(0.2)">3</text><text transform="translate(274.56 348.6) rotate(0.2)">6</text><text transform="translate(274.56 337.62) rotate(0.2)">9</text></g>
<g text-anchor="end" font-size="4.45" fill="#444"><text transform="translate(286.75 376.25) rotate(-45)">WT day 2</text><text transform="translate(300.06 376.25) rotate(-45)">WT day 18</text><text transform="translate(313.36 376.25) rotate(-45)">SS day 2</text><text transform="translate(326.67 376.25) rotate(-45)">SS day 18</text></g>
</g>
<g>
<rect x="346.9" y="326.85" width="55.9" height="43.6" fill="#fff"/>
<g stroke="#e4e4e4" fill="none"><path d="M346.9 368.55h55.9" stroke-width="0.3"/><path d="M346.9 363.81h55.9" stroke-width="0.15"/><path d="M346.9 359.07h55.9" stroke-width="0.3"/><path d="M346.9 354.33h55.9" stroke-width="0.15"/><path d="M346.9 349.59h55.9" stroke-width="0.3"/><path d="M346.9 344.85h55.9" stroke-width="0.15"/><path d="M346.9 340.11h55.9" stroke-width="0.3"/><path d="M346.9 335.37h55.9" stroke-width="0.15"/><path d="M346.9 330.63h55.9" stroke-width="0.3"/><path d="M354.89 326.85v43.6" stroke-width="0.3"/><path d="M368.2 326.85v43.6" stroke-width="0.3"/><path d="M381.5 326.85v43.6" stroke-width="0.3"/><path d="M394.81 326.85v43.6" stroke-width="0.3"/></g>
<g fill="#929D60"><rect x="348.9" y="367.13" width="11.98" height="1.42"/><rect x="362.21" y="368.27" width="11.98" height="0.28"/><rect x="375.52" y="329.4" width="11.98" height="39.15"/><rect x="388.82" y="337.27" width="11.98" height="31.28"/></g>
<rect x="346.9" y="326.85" width="55.9" height="43.6" fill="none" stroke="#a8a8a8" stroke-width="0.5"/>
<rect x="346.9" y="319.55" width="55.9" height="7.3" fill="#d9d9d9" stroke="#999" stroke-width="0.45"/>
<svg x="347.1" y="319.55" width="55.5" height="7.3" overflow="hidden"><text transform="translate(27.75 5.25) rotate(0.2)" text-anchor="middle" font-style="italic" font-size="4.25" fill="#000">u.Bacterium_1</text></svg>
<path d="M345.5 368.55h1.3M345.5 359.07h1.3M345.5 349.59h1.3M345.5 340.11h1.3M345.5 330.63h1.3M354.89 370.55v1.3M368.2 370.55v1.3M381.5 370.55v1.3M394.81 370.55v1.3" stroke="#444" stroke-width="0.75" fill="none"/>
<g text-anchor="end" font-size="4.9" fill="#3c3c3c"><text transform="translate(344.4 370.55) rotate(0.2)">0</text><text transform="translate(344.4 361.07) rotate(0.2)">2</text><text transform="translate(344.4 351.59) rotate(0.2)">4</text><text transform="translate(344.4 342.11) rotate(0.2)">6</text><text transform="translate(344.4 332.63) rotate(0.2)">8</text></g>
<g text-anchor="end" font-size="4.45" fill="#444"><text transform="translate(356.59 376.25) rotate(-45)">WT day 2</text><text transform="translate(369.9 376.25) rotate(-45)">WT day 18</text><text transform="translate(383.2 376.25) rotate(-45)">SS day 2</text><text transform="translate(396.51 376.25) rotate(-45)">SS day 18</text></g>
</g>
<g>
<rect x="416.55" y="326.85" width="55.9" height="43.6" fill="#fff"/>
<g stroke="#e4e4e4" fill="none"><path d="M416.55 368.55h55.9" stroke-width="0.3"/><path d="M416.55 361.78h55.9" stroke-width="0.15"/><path d="M416.55 355h55.9" stroke-width="0.3"/><path d="M416.55 348.23h55.9" stroke-width="0.15"/><path d="M416.55 341.46h55.9" stroke-width="0.3"/><path d="M416.55 334.68h55.9" stroke-width="0.15"/><path d="M416.55 327.91h55.9" stroke-width="0.3"/><path d="M424.54 326.85v43.6" stroke-width="0.3"/><path d="M437.85 326.85v43.6" stroke-width="0.3"/><path d="M451.15 326.85v43.6" stroke-width="0.3"/><path d="M464.46 326.85v43.6" stroke-width="0.3"/></g>
<g fill="#40A736"><rect x="418.55" y="346.2" width="11.98" height="22.35"/><rect x="431.86" y="334.41" width="11.98" height="34.14"/><rect x="445.17" y="329.4" width="11.98" height="39.15"/><rect x="458.48" y="331.43" width="11.98" height="37.12"/></g>
<rect x="416.55" y="326.85" width="55.9" height="43.6" fill="none" stroke="#a8a8a8" stroke-width="0.5"/>
<rect x="416.55" y="319.55" width="55.9" height="7.3" fill="#d9d9d9" stroke="#999" stroke-width="0.45"/>
<svg x="416.75" y="319.55" width="55.5" height="7.3" overflow="hidden"><text transform="translate(27.75 5.25) rotate(0.2)" text-anchor="middle" font-style="italic" font-size="4.25" fill="#000">u.Cyclobacteriaceae</text></svg>
<path d="M415.15 368.55h1.3M415.15 355h1.3M415.15 341.46h1.3M415.15 327.91h1.3M424.54 370.55v1.3M437.85 370.55v1.3M451.15 370.55v1.3M464.46 370.55v1.3" stroke="#444" stroke-width="0.75" fill="none"/>
<g text-anchor="end" font-size="4.9" fill="#3c3c3c"><text transform="translate(414.05 370.55) rotate(0.2)">0</text><text transform="translate(414.05 357) rotate(0.2)">2</text><text transform="translate(414.05 343.46) rotate(0.2)">4</text><text transform="translate(414.05 329.91) rotate(0.2)">6</text></g>
<g text-anchor="end" font-size="4.45" fill="#444"><text transform="translate(426.24 376.25) rotate(-45)">WT day 2</text><text transform="translate(439.55 376.25) rotate(-45)">WT day 18</text><text transform="translate(452.85 376.25) rotate(-45)">SS day 2</text><text transform="translate(466.16 376.25) rotate(-45)">SS day 18</text></g>
</g>
<g>
<rect x="277.06" y="401.75" width="55.9" height="43.6" fill="#fff"/>
<g stroke="#e4e4e4" fill="none"><path d="M277.06 443.45h55.9" stroke-width="0.3"/><path d="M277.06 436.58h55.9" stroke-width="0.15"/><path d="M277.06 429.71h55.9" stroke-width="0.3"/><path d="M277.06 422.84h55.9" stroke-width="0.15"/><path d="M277.06 415.98h55.9" stroke-width="0.3"/><path d="M277.06 409.11h55.9" stroke-width="0.15"/><path d="M277.06 402.24h55.9" stroke-width="0.3"/><path d="M285.05 401.75v43.6" stroke-width="0.3"/><path d="M298.36 401.75v43.6" stroke-width="0.3"/><path d="M311.66 401.75v43.6" stroke-width="0.3"/><path d="M324.97 401.75v43.6" stroke-width="0.3"/></g>
<g fill="#8ACB6C"><rect x="279.06" y="404.3" width="11.98" height="39.15"/><rect x="292.37" y="408.7" width="11.98" height="34.75"/><rect x="305.68" y="417.9" width="11.98" height="25.55"/><rect x="318.99" y="421.06" width="11.98" height="22.39"/></g>
<rect x="277.06" y="401.75" width="55.9" height="43.6" fill="none" stroke="#a8a8a8" stroke-width="0.5"/>
<rect x="277.06" y="394.45" width="55.9" height="7.3" fill="#d9d9d9" stroke="#999" stroke-width="0.45"/>
<svg x="277.26" y="394.45" width="55.5" height="7.3" overflow="hidden"><text transform="translate(27.75 5.25) rotate(0.2)" text-anchor="middle" font-style="italic" font-size="4.25" fill="#000">u.Gammaproteob._OM182</text></svg>
<path d="M275.66 443.45h1.3M275.66 429.71h1.3M275.66 415.98h1.3M275.66 402.24h1.3M285.05 445.45v1.3M298.36 445.45v1.3M311.66 445.45v1.3M324.97 445.45v1.3" stroke="#444" stroke-width="0.75" fill="none"/>
<g text-anchor="end" font-size="4.9" fill="#3c3c3c"><text transform="translate(274.56 445.45) rotate(0.2)">0</text><text transform="translate(274.56 431.71) rotate(0.2)">1</text><text transform="translate(274.56 417.98) rotate(0.2)">2</text><text transform="translate(274.56 404.24) rotate(0.2)">3</text></g>
<g text-anchor="end" font-size="4.45" fill="#444"><text transform="translate(286.75 451.15) rotate(-45)">WT day 2</text><text transform="translate(300.06 451.15) rotate(-45)">WT day 18</text><text transform="translate(313.36 451.15) rotate(-45)">SS day 2</text><text transform="translate(326.67 451.15) rotate(-45)">SS day 18</text></g>
</g>
<g>
<rect x="346.9" y="401.75" width="55.9" height="43.6" fill="#fff"/>
<g stroke="#e4e4e4" fill="none"><path d="M346.9 443.45h55.9" stroke-width="0.3"/><path d="M346.9 438.96h55.9" stroke-width="0.15"/><path d="M346.9 434.47h55.9" stroke-width="0.3"/><path d="M346.9 429.98h55.9" stroke-width="0.15"/><path d="M346.9 425.49h55.9" stroke-width="0.3"/><path d="M346.9 421h55.9" stroke-width="0.15"/><path d="M346.9 416.51h55.9" stroke-width="0.3"/><path d="M346.9 412.02h55.9" stroke-width="0.15"/><path d="M346.9 407.53h55.9" stroke-width="0.3"/><path d="M346.9 403.04h55.9" stroke-width="0.15"/><path d="M354.89 401.75v43.6" stroke-width="0.3"/><path d="M368.2 401.75v43.6" stroke-width="0.3"/><path d="M381.5 401.75v43.6" stroke-width="0.3"/><path d="M394.81 401.75v43.6" stroke-width="0.3"/></g>
<g fill="#8BC495"><rect x="348.9" y="423.52" width="11.98" height="19.93"/><rect x="362.21" y="404.3" width="11.98" height="39.15"/><rect x="375.52" y="420.1" width="11.98" height="23.35"/><rect x="388.82" y="414" width="11.98" height="29.45"/></g>
<rect x="346.9" y="401.75" width="55.9" height="43.6" fill="none" stroke="#a8a8a8" stroke-width="0.5"/>
<rect x="346.9" y="394.45" width="55.9" height="7.3" fill="#d9d9d9" stroke="#999" stroke-width="0.45"/>
<svg x="347.1" y="394.45" width="55.5" height="7.3" overflow="hidden"><text transform="translate(27.75 5.25) rotate(0.2)" text-anchor="middle" font-style="italic" font-size="4.25" fill="#000">u.Gammaproteob._pItb-vmat-80</text></svg>
<path d="M345.5 443.45h1.3M345.5 434.47h1.3M345.5 425.49h1.3M345.5 416.51h1.3M345.5 407.53h1.3M354.89 445.45v1.3M368.2 445.45v1.3M381.5 445.45v1.3M394.81 445.45v1.3" stroke="#444" stroke-width="0.75" fill="none"/>
<g text-anchor="end" font-size="4.9" fill="#3c3c3c"><text transform="translate(344.4 445.45) rotate(0.2)">0.0</text><text transform="translate(344.4 436.47) rotate(0.2)">0.5</text><text transform="translate(344.4 427.49) rotate(0.2)">1.0</text><text transform="translate(344.4 418.51) rotate(0.2)">1.5</text><text transform="translate(344.4 409.53) rotate(0.2)">2.0</text></g>
<g text-anchor="end" font-size="4.45" fill="#444"><text transform="translate(356.59 451.15) rotate(-45)">WT day 2</text><text transform="translate(369.9 451.15) rotate(-45)">WT day 18</text><text transform="translate(383.2 451.15) rotate(-45)">SS day 2</text><text transform="translate(396.51 451.15) rotate(-45)">SS day 18</text></g>
</g>
<g>
<rect x="416.55" y="401.75" width="55.9" height="43.6" fill="#fff"/>
<g stroke="#e4e4e4" fill="none"><path d="M416.55 443.45h55.9" stroke-width="0.3"/><path d="M416.55 438.48h55.9" stroke-width="0.15"/><path d="M416.55 433.5h55.9" stroke-width="0.3"/><path d="M416.55 428.53h55.9" stroke-width="0.15"/><path d="M416.55 423.55h55.9" stroke-width="0.3"/><path d="M416.55 418.58h55.9" stroke-width="0.15"/><path d="M416.55 413.6h55.9" stroke-width="0.3"/><path d="M416.55 408.63h55.9" stroke-width="0.15"/><path d="M416.55 403.65h55.9" stroke-width="0.3"/><path d="M424.54 401.75v43.6" stroke-width="0.3"/><path d="M437.85 401.75v43.6" stroke-width="0.3"/><path d="M451.15 401.75v43.6" stroke-width="0.3"/><path d="M464.46 401.75v43.6" stroke-width="0.3"/></g>
<g fill="#3688AD"><rect x="418.55" y="404.3" width="11.98" height="39.15"/><rect x="431.86" y="423.75" width="11.98" height="19.7"/><rect x="445.17" y="410.12" width="11.98" height="33.33"/><rect x="458.48" y="420.77" width="11.98" height="22.68"/></g>
<rect x="416.55" y="401.75" width="55.9" height="43.6" fill="none" stroke="#a8a8a8" stroke-width="0.5"/>
<rect x="416.55" y="394.45" width="55.9" height="7.3" fill="#d9d9d9" stroke="#999" stroke-width="0.45"/>
<svg x="416.75" y="394.45" width="55.5" height="7.3" overflow="hidden"><text transform="translate(27.75 5.25) rotate(0.2)" text-anchor="middle" font-style="italic" font-size="4.25" fill="#000">u.Rickettsiales_AB1</text></svg>
<path d="M415.15 443.45h1.3M415.15 433.5h1.3M415.15 423.55h1.3M415.15 413.6h1.3M415.15 403.65h1.3M424.54 445.45v1.3M437.85 445.45v1.3M451.15 445.45v1.3M464.46 445.45v1.3" stroke="#444" stroke-width="0.75" fill="none"/>
<g text-anchor="end" font-size="4.9" fill="#3c3c3c"><text transform="translate(414.05 445.45) rotate(0.2)">0</text><text transform="translate(414.05 435.5) rotate(0.2)">2</text><text transform="translate(414.05 425.55) rotate(0.2)">4</text><text transform="translate(414.05 415.6) rotate(0.2)">6</text><text transform="translate(414.05 405.65) rotate(0.2)">8</text></g>
<g text-anchor="end" font-size="4.45" fill="#444"><text transform="translate(426.24 451.15) rotate(-45)">WT day 2</text><text transform="translate(439.55 451.15) rotate(-45)">WT day 18</text><text transform="translate(452.85 451.15) rotate(-45)">SS day 2</text><text transform="translate(466.16 451.15) rotate(-45)">SS day 18</text></g>
</g>
<g>
<rect x="277.06" y="476.65" width="55.9" height="43.6" fill="#fff"/>
<g stroke="#e4e4e4" fill="none"><path d="M277.06 518.35h55.9" stroke-width="0.3"/><path d="M277.06 512.26h55.9" stroke-width="0.15"/><path d="M277.06 506.17h55.9" stroke-width="0.3"/><path d="M277.06 500.08h55.9" stroke-width="0.15"/><path d="M277.06 494h55.9" stroke-width="0.3"/><path d="M277.06 487.91h55.9" stroke-width="0.15"/><path d="M277.06 481.82h55.9" stroke-width="0.3"/><path d="M285.05 476.65v43.6" stroke-width="0.3"/><path d="M298.36 476.65v43.6" stroke-width="0.3"/><path d="M311.66 476.65v43.6" stroke-width="0.3"/><path d="M324.97 476.65v43.6" stroke-width="0.3"/></g>
<g fill="#589CC8"><rect x="279.06" y="479.2" width="11.98" height="39.15"/><rect x="292.37" y="499.54" width="11.98" height="18.81"/><rect x="305.68" y="481.57" width="11.98" height="36.78"/><rect x="318.99" y="498.32" width="11.98" height="20.03"/></g>
<rect x="277.06" y="476.65" width="55.9" height="43.6" fill="none" stroke="#a8a8a8" stroke-width="0.5"/>
<rect x="277.06" y="469.35" width="55.9" height="7.3" fill="#d9d9d9" stroke="#999" stroke-width="0.45"/>
<svg x="277.26" y="469.35" width="55.5" height="7.3" overflow="hidden"><text transform="translate(27.75 5.25) rotate(0.2)" text-anchor="middle" font-style="italic" font-size="4.25" fill="#000">u.Simkaniaceae</text></svg>
<path d="M275.66 518.35h1.3M275.66 506.17h1.3M275.66 494h1.3M275.66 481.82h1.3M285.05 520.35v1.3M298.36 520.35v1.3M311.66 520.35v1.3M324.97 520.35v1.3" stroke="#444" stroke-width="0.75" fill="none"/>
<g text-anchor="end" font-size="4.9" fill="#3c3c3c"><text transform="translate(274.56 520.35) rotate(0.2)">0</text><text transform="translate(274.56 508.17) rotate(0.2)">2</text><text transform="translate(274.56 496) rotate(0.2)">4</text><text transform="translate(274.56 483.82) rotate(0.2)">6</text></g>
<g text-anchor="end" font-size="4.45" fill="#444"><text transform="translate(286.75 526.05) rotate(-45)">WT day 2</text><text transform="translate(300.06 526.05) rotate(-45)">WT day 18</text><text transform="translate(313.36 526.05) rotate(-45)">SS day 2</text><text transform="translate(326.67 526.05) rotate(-45)">SS day 18</text></g>
</g>
<g>
<rect x="346.9" y="476.65" width="55.9" height="43.6" fill="#fff"/>
<g stroke="#e4e4e4" fill="none"><path d="M346.9 518.35h55.9" stroke-width="0.3"/><path d="M346.9 512.02h55.9" stroke-width="0.15"/><path d="M346.9 505.68h55.9" stroke-width="0.3"/><path d="M346.9 499.35h55.9" stroke-width="0.15"/><path d="M346.9 493.01h55.9" stroke-width="0.3"/><path d="M346.9 486.68h55.9" stroke-width="0.15"/><path d="M346.9 480.34h55.9" stroke-width="0.3"/><path d="M354.89 476.65v43.6" stroke-width="0.3"/><path d="M368.2 476.65v43.6" stroke-width="0.3"/><path d="M381.5 476.65v43.6" stroke-width="0.3"/><path d="M394.81 476.65v43.6" stroke-width="0.3"/></g>
<g fill="#A6CEE3"><rect x="348.9" y="479.2" width="11.98" height="39.15"/><rect x="362.21" y="480.09" width="11.98" height="38.26"/><rect x="375.52" y="488.32" width="11.98" height="30.03"/><rect x="388.82" y="494.28" width="11.98" height="24.07"/></g>
<rect x="346.9" y="476.65" width="55.9" height="43.6" fill="none" stroke="#a8a8a8" stroke-width="0.5"/>
<rect x="346.9" y="469.35" width="55.9" height="7.3" fill="#d9d9d9" stroke="#999" stroke-width="0.45"/>
<svg x="347.1" y="469.35" width="55.5" height="7.3" overflow="hidden"><text transform="translate(27.75 5.25) rotate(0.2)" text-anchor="middle" font-style="italic" font-size="4.25" fill="#000">u.Sphingobacteriales_NS11-12</text></svg>
<path d="M345.5 518.35h1.3M345.5 505.68h1.3M345.5 493.01h1.3M345.5 480.34h1.3M354.89 520.35v1.3M368.2 520.35v1.3M381.5 520.35v1.3M394.81 520.35v1.3" stroke="#444" stroke-width="0.75" fill="none"/>
<g text-anchor="end" font-size="4.9" fill="#3c3c3c"><text transform="translate(344.4 520.35) rotate(0.2)">0</text><text transform="translate(344.4 507.68) rotate(0.2)">1</text><text transform="translate(344.4 495.01) rotate(0.2)">2</text><text transform="translate(344.4 482.34) rotate(0.2)">3</text></g>
<g text-anchor="end" font-size="4.45" fill="#444"><text transform="translate(356.59 526.05) rotate(-45)">WT day 2</text><text transform="translate(369.9 526.05) rotate(-45)">WT day 18</text><text transform="translate(383.2 526.05) rotate(-45)">SS day 2</text><text transform="translate(396.51 526.05) rotate(-45)">SS day 18</text></g>
</g>
</svg>
</body></html>
